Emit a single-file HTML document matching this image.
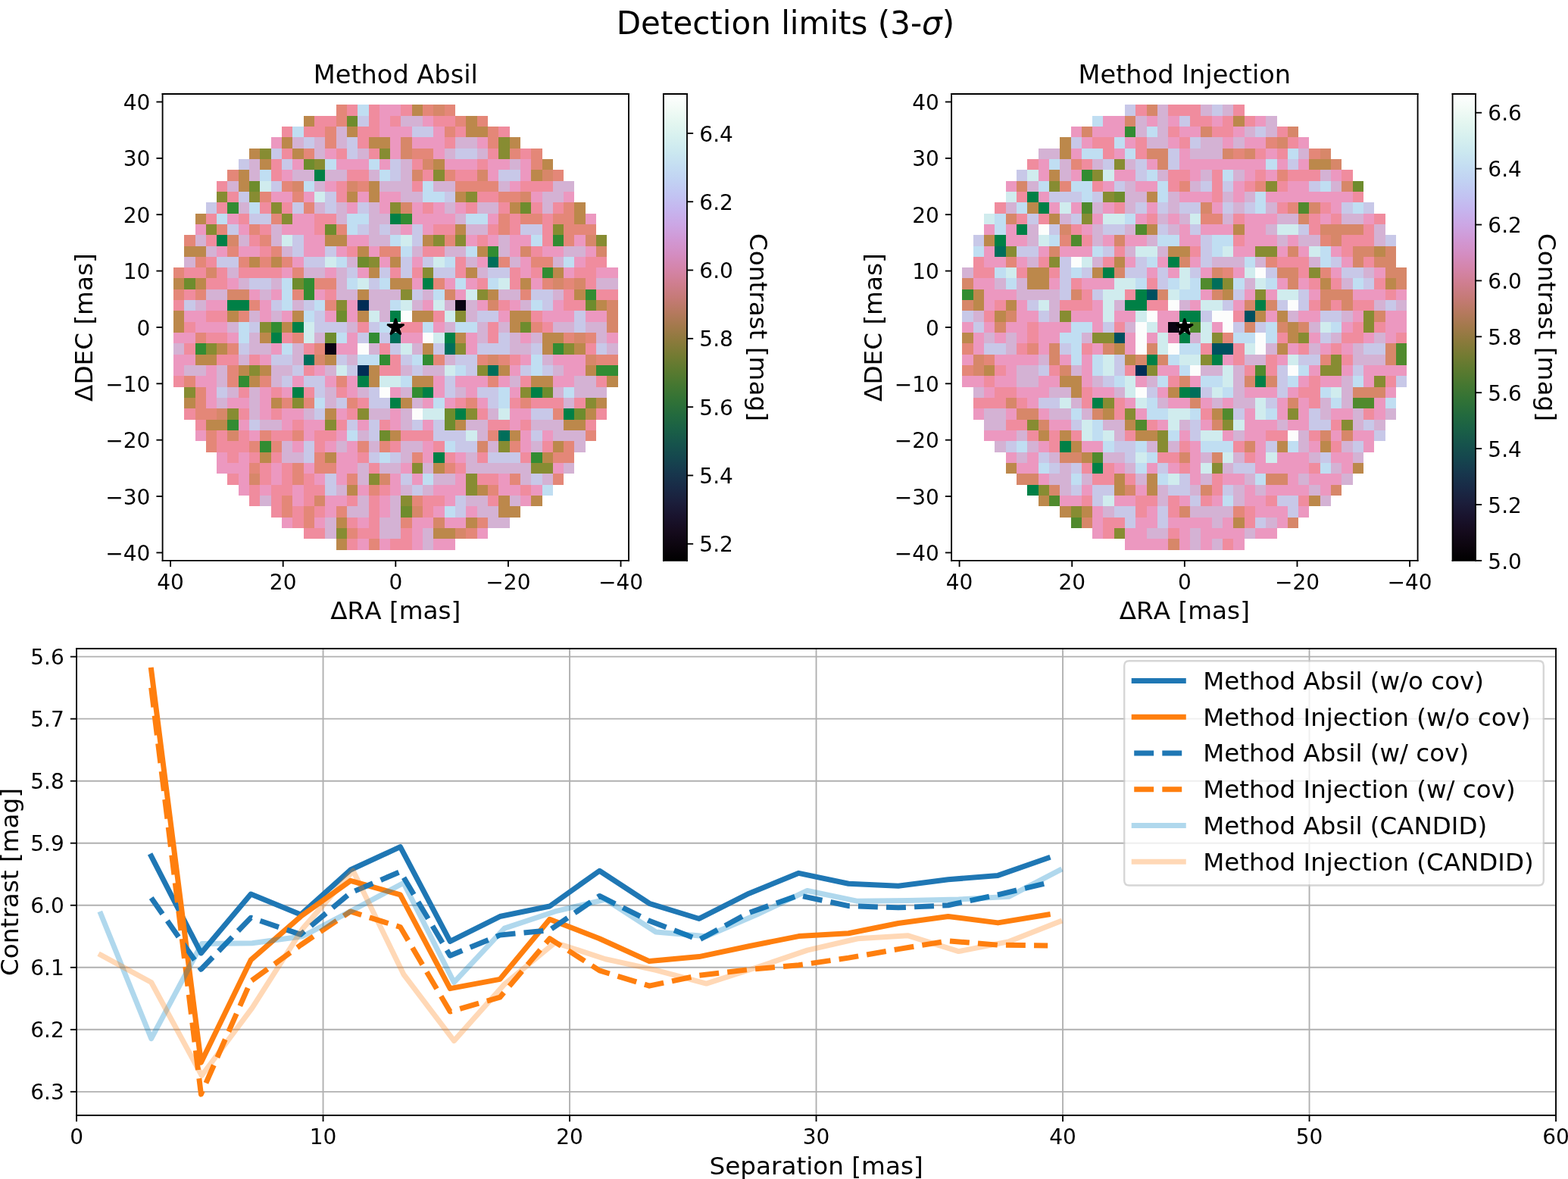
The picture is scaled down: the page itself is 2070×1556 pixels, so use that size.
<!DOCTYPE html>
<html><head><meta charset="utf-8"><title>Detection limits (3-sigma)</title><style>html,body{margin:0;padding:0;background:#fff;overflow:hidden}svg{display:block}</style></head><body>
<svg width="2070" height="1556" viewBox="0 0 887.142857 666.857143" version="1.1">
 
 <defs>
  <style type="text/css">*{stroke-linejoin: round; stroke-linecap: butt}</style>
 </defs>
 <g id="figure_1">
  <g id="patch_1">
   <path d="M 0 666.857143 
L 887.142857 666.857143 
L 887.142857 0 
L 0 0 
z
" style="fill: #ffffff"/>
  </g>
  <g id="axes_1">
   <g id="patch_2">
    <path d="M 91.971429 317.1 
L 355.714286 317.1 
L 355.714286 53.142857 
L 91.971429 53.142857 
z
" style="fill: #ffffff"/>
   </g>
   <g id="HEAT_ax1"><g transform="scale(0.4285714)" shape-rendering="crispEdges">
<path fill="#e48778" d="M444 138h14v15h-14zM558 138h14v15h-14zM587 138h14v15h-14zM444 153h14v14h-14zM601 153h14v14h-14zM630 153h14v14h-14zM429 167h15v14h-15zM587 167h14v14h-14zM644 167h14v14h-14zM429 181h15v15h-15zM644 181h14v15h-14zM401 196h14v14h-14zM544 196h14v14h-14zM558 196h14v14h-14zM673 196h14v14h-14zM701 196h15v14h-15zM701 210h15v14h-15zM300 224h15v15h-15zM587 224h14v15h-14zM730 224h14v15h-14zM372 239h14v14h-14zM472 239h15v14h-15zM601 239h14v14h-14zM615 239h15v14h-15zM630 239h14v14h-14zM644 239h14v14h-14zM343 253h15v14h-15zM386 253h15v14h-15zM658 253h15v14h-15zM673 253h14v14h-14zM401 267h14v15h-14zM744 267h14v15h-14zM358 282h14v14h-14zM658 282h15v14h-15zM687 282h14v14h-14zM701 282h15v14h-15zM730 282h14v14h-14zM744 282h14v14h-14zM286 296h14v14h-14zM329 296h14v14h-14zM444 296h14v14h-14zM658 296h15v14h-15zM744 296h14v14h-14zM758 296h15v14h-15zM773 296h14v14h-14zM243 310h15v15h-15zM343 310h15v15h-15zM587 310h14v15h-14zM744 310h14v15h-14zM300 325h15v14h-15zM358 325h14v14h-14zM501 325h14v14h-14zM515 325h14v14h-14zM258 339h14v14h-14zM315 339h14v14h-14zM343 339h15v14h-15zM372 339h14v14h-14zM658 339h15v14h-15zM701 339h15v14h-15zM716 339h14v14h-14zM229 353h14v14h-14zM386 353h15v14h-15zM415 367h14v15h-14zM429 367h15v15h-15zM572 367h15v15h-15zM716 367h14v15h-14zM744 367h14v15h-14zM229 382h14v14h-14zM258 382h14v14h-14zM386 382h15v14h-15zM687 382h14v14h-14zM329 396h14v14h-14zM429 396h15v14h-15zM315 410h14v15h-14zM701 425h15v14h-15zM258 439h14v14h-14zM386 439h15v14h-15zM744 439h14v14h-14zM773 439h14v14h-14zM300 453h15v15h-15zM415 453h14v15h-14zM572 468h15v14h-15zM630 468h14v14h-14zM658 468h15v14h-15zM787 468h14v14h-14zM801 468h15v14h-15zM300 482h15v14h-15zM243 496h15v15h-15zM300 496h15v15h-15zM343 496h15v15h-15zM444 496h14v15h-14zM644 496h14v15h-14zM258 511h14v14h-14zM258 525h14v14h-14zM372 525h14v14h-14zM401 525h14v14h-14zM458 525h14v14h-14zM615 525h15v14h-15zM687 525h14v14h-14zM258 539h14v15h-14zM272 539h14v15h-14zM730 539h14v15h-14zM272 568h14v14h-14zM343 568h15v14h-15zM386 568h15v14h-15zM644 568h14v14h-14zM773 568h14v14h-14zM272 582h14v15h-14zM329 582h14v15h-14zM358 582h14v15h-14zM472 582h15v15h-15zM501 582h14v15h-14zM673 582h14v15h-14zM744 582h14v15h-14zM415 597h14v14h-14zM544 597h14v14h-14zM730 597h14v14h-14zM744 597h14v14h-14zM329 611h14v14h-14zM386 611h15v14h-15zM415 611h14v14h-14zM429 611h15v14h-15zM587 611h14v14h-14zM386 625h15v15h-15zM458 625h14v15h-14zM673 625h14v15h-14zM730 625h14v15h-14zM487 640h14v14h-14zM644 640h14v14h-14zM372 654h14v14h-14zM544 654h14v14h-14zM372 668h14v15h-14zM401 668h14v15h-14zM444 668h14v15h-14zM401 683h14v14h-14zM529 683h15v14h-15zM630 683h14v14h-14zM458 697h14v14h-14zM615 697h15v14h-15zM487 711h14v15h-14z"/>
<path fill="#f08c9e" d="M458 138h14v15h-14zM487 138h14v15h-14zM529 138h15v15h-15zM415 153h14v14h-14zM429 153h15v14h-15zM487 153h14v14h-14zM515 153h14v14h-14zM572 153h15v14h-15zM587 153h14v14h-14zM372 167h14v14h-14zM401 167h14v14h-14zM415 167h14v14h-14zM472 167h15v14h-15zM487 167h14v14h-14zM601 167h14v14h-14zM658 167h15v14h-15zM472 181h15v15h-15zM587 181h14v15h-14zM372 196h14v14h-14zM444 196h14v14h-14zM487 196h14v14h-14zM644 196h14v14h-14zM687 196h14v14h-14zM358 210h14v14h-14zM544 210h14v14h-14zM630 210h14v14h-14zM358 224h14v15h-14zM458 224h14v15h-14zM472 224h15v15h-15zM558 224h14v15h-14zM601 224h14v15h-14zM615 224h15v15h-15zM286 239h14v14h-14zM444 239h14v14h-14zM544 239h14v14h-14zM687 239h14v14h-14zM701 239h15v14h-15zM716 239h14v14h-14zM300 253h15v14h-15zM444 253h14v14h-14zM630 253h14v14h-14zM644 253h14v14h-14zM286 267h14v15h-14zM343 267h15v15h-15zM372 267h14v15h-14zM558 267h14v15h-14zM615 267h15v15h-15zM658 267h15v15h-15zM701 267h15v15h-15zM730 267h14v15h-14zM272 282h14v14h-14zM315 282h14v14h-14zM415 282h14v14h-14zM429 282h15v14h-15zM673 282h14v14h-14zM716 282h14v14h-14zM343 296h15v14h-15zM415 296h14v14h-14zM572 296h15v14h-15zM587 296h14v14h-14zM644 296h14v14h-14zM673 296h14v14h-14zM716 296h14v14h-14zM272 310h14v15h-14zM329 310h14v15h-14zM630 310h14v15h-14zM716 310h14v15h-14zM343 325h15v14h-15zM458 325h14v14h-14zM558 325h14v14h-14zM572 325h15v14h-15zM701 325h15v14h-15zM272 339h14v14h-14zM601 339h14v14h-14zM773 339h14v14h-14zM787 339h14v14h-14zM243 353h15v14h-15zM258 353h14v14h-14zM286 353h14v14h-14zM315 353h14v14h-14zM329 353h14v14h-14zM343 353h15v14h-15zM358 353h14v14h-14zM515 353h14v14h-14zM544 353h14v14h-14zM601 353h14v14h-14zM673 353h14v14h-14zM701 353h15v14h-15zM758 353h15v14h-15zM773 353h14v14h-14zM272 367h14v15h-14zM286 367h14v15h-14zM630 367h14v15h-14zM673 367h14v15h-14zM773 367h14v15h-14zM243 382h15v14h-15zM429 382h15v14h-15zM744 382h14v14h-14zM787 382h14v14h-14zM801 382h15v14h-15zM229 396h14v14h-14zM658 396h15v14h-15zM744 396h14v14h-14zM758 396h15v14h-15zM272 410h14v15h-14zM286 410h14v15h-14zM572 410h15v15h-15zM701 410h15v15h-15zM243 425h15v14h-15zM472 425h15v14h-15zM529 425h15v14h-15zM544 425h14v14h-14zM644 425h14v14h-14zM716 425h14v14h-14zM272 439h14v14h-14zM286 439h14v14h-14zM372 439h14v14h-14zM644 439h14v14h-14zM243 453h15v15h-15zM401 453h14v15h-14zM501 453h14v15h-14zM773 453h14v15h-14zM286 468h14v14h-14zM300 468h15v14h-15zM329 468h14v14h-14zM515 468h14v14h-14zM673 468h14v14h-14zM401 482h14v14h-14zM501 482h14v14h-14zM515 482h14v14h-14zM229 496h14v15h-14zM687 496h14v15h-14zM787 496h14v15h-14zM315 511h14v14h-14zM358 511h14v14h-14zM401 511h14v14h-14zM444 511h14v14h-14zM472 525h15v14h-15zM601 525h14v14h-14zM673 525h14v14h-14zM701 525h15v14h-15zM716 525h14v14h-14zM730 525h14v14h-14zM758 525h15v14h-15zM243 539h15v15h-15zM315 539h14v15h-14zM358 539h14v15h-14zM458 539h14v15h-14zM630 539h14v15h-14zM787 539h14v15h-14zM258 554h14v14h-14zM386 554h15v14h-15zM444 554h14v14h-14zM501 554h14v14h-14zM644 554h14v14h-14zM658 554h15v14h-15zM687 554h14v14h-14zM773 554h14v14h-14zM286 568h14v14h-14zM315 568h14v14h-14zM358 568h14v14h-14zM372 568h14v14h-14zM415 568h14v14h-14zM429 568h15v14h-15zM529 568h15v14h-15zM544 568h14v14h-14zM558 568h14v14h-14zM286 582h14v15h-14zM300 582h15v15h-15zM315 582h14v15h-14zM415 582h14v15h-14zM515 582h14v15h-14zM572 582h15v15h-15zM716 582h14v15h-14zM300 597h15v14h-15zM329 597h14v14h-14zM358 597h14v14h-14zM472 597h15v14h-15zM587 597h14v14h-14zM630 597h14v14h-14zM687 597h14v14h-14zM343 611h15v14h-15zM372 611h14v14h-14zM487 611h14v14h-14zM601 611h14v14h-14zM300 625h15v15h-15zM343 625h15v15h-15zM372 625h14v15h-14zM401 625h14v15h-14zM630 625h14v15h-14zM644 625h14v15h-14zM329 640h14v14h-14zM358 640h14v14h-14zM372 640h14v14h-14zM401 640h14v14h-14zM415 640h14v14h-14zM501 640h14v14h-14zM687 640h14v14h-14zM329 654h14v14h-14zM358 654h14v14h-14zM401 654h14v14h-14zM458 654h14v14h-14zM487 654h14v14h-14zM558 654h14v14h-14zM572 654h15v14h-15zM644 654h14v14h-14zM358 668h14v15h-14zM386 668h15v15h-15zM415 668h14v15h-14zM487 668h14v15h-14zM558 668h14v15h-14zM386 683h15v14h-15zM458 683h14v14h-14zM487 683h14v14h-14zM401 697h14v14h-14zM415 697h14v14h-14zM472 697h15v14h-15zM487 697h14v14h-14zM529 697h15v14h-15zM458 711h14v15h-14zM515 711h14v15h-14zM529 711h15v15h-15z"/>
<path fill="#c0def2" d="M472 138h15v15h-15zM386 167h15v14h-15zM429 210h15v14h-15zM487 210h14v14h-14zM343 224h15v15h-15zM501 224h14v15h-14zM401 239h14v14h-14zM558 239h14v14h-14zM558 253h14v14h-14zM572 253h15v14h-15zM329 267h14v15h-14zM286 282h14v14h-14zM458 282h14v14h-14zM472 282h15v14h-15zM615 282h15v14h-15zM630 282h14v14h-14zM458 296h14v14h-14zM515 310h14v15h-14zM701 310h15v15h-15zM529 325h15v14h-15zM615 325h15v14h-15zM444 339h14v14h-14zM587 339h14v14h-14zM744 339h14v14h-14zM372 367h14v15h-14zM458 367h14v15h-14zM501 367h14v15h-14zM601 367h14v15h-14zM644 367h14v15h-14zM372 382h14v14h-14zM572 382h15v14h-15zM372 396h14v14h-14zM415 396h14v14h-14zM515 396h14v14h-14zM701 396h15v14h-15zM401 410h14v15h-14zM315 425h14v14h-14zM501 425h14v14h-14zM558 425h14v14h-14zM601 425h14v14h-14zM615 425h15v14h-15zM315 439h14v14h-14zM444 439h14v14h-14zM372 453h14v15h-14zM472 468h15v14h-15zM487 468h14v14h-14zM544 468h14v14h-14zM701 468h15v14h-15zM601 482h14v14h-14zM701 482h15v14h-15zM529 496h15v15h-15zM658 511h15v14h-15zM744 511h14v14h-14zM415 525h14v14h-14zM572 525h15v14h-15zM658 525h15v14h-15zM458 568h14v14h-14zM587 582h14v15h-14zM501 597h14v14h-14zM558 625h14v15h-14zM716 640h14v14h-14zM587 668h14v15h-14z"/>
<path fill="#ec98c0" d="M501 138h14v15h-14zM515 138h14v15h-14zM501 153h14v14h-14zM558 153h14v14h-14zM501 167h14v14h-14zM515 167h14v14h-14zM529 167h15v14h-15zM572 167h15v14h-15zM358 181h14v15h-14zM515 181h14v15h-14zM544 181h14v15h-14zM558 181h14v15h-14zM572 181h15v15h-15zM630 181h14v15h-14zM429 196h15v14h-15zM515 196h14v14h-14zM572 196h15v14h-15zM386 210h15v14h-15zM444 210h14v14h-14zM458 210h14v14h-14zM472 210h15v14h-15zM501 210h14v14h-14zM587 210h14v14h-14zM601 210h14v14h-14zM615 210h15v14h-15zM644 210h14v14h-14zM658 210h15v14h-15zM687 210h14v14h-14zM372 224h14v15h-14zM644 224h14v15h-14zM687 224h14v15h-14zM429 239h15v14h-15zM673 239h14v14h-14zM358 253h14v14h-14zM372 253h14v14h-14zM401 253h14v14h-14zM472 253h15v14h-15zM501 253h14v14h-14zM515 253h14v14h-14zM701 253h15v14h-15zM744 253h14v14h-14zM458 267h14v15h-14zM501 267h14v15h-14zM544 267h14v15h-14zM572 267h15v15h-15zM601 267h14v15h-14zM300 282h15v14h-15zM386 282h15v14h-15zM401 282h14v14h-14zM544 282h14v14h-14zM558 282h14v14h-14zM572 282h15v14h-15zM587 282h14v14h-14zM644 282h14v14h-14zM773 282h14v14h-14zM258 296h14v14h-14zM315 296h14v14h-14zM372 296h14v14h-14zM386 296h15v14h-15zM401 296h14v14h-14zM529 296h15v14h-15zM558 296h14v14h-14zM401 310h14v15h-14zM415 310h14v15h-14zM458 310h14v15h-14zM472 310h15v15h-15zM615 310h15v15h-15zM644 310h14v15h-14zM673 310h14v15h-14zM687 310h14v15h-14zM758 310h15v15h-15zM286 325h14v14h-14zM315 325h14v14h-14zM329 325h14v14h-14zM401 325h14v14h-14zM415 325h14v14h-14zM444 325h14v14h-14zM487 325h14v14h-14zM673 325h14v14h-14zM716 325h14v14h-14zM730 325h14v14h-14zM773 325h14v14h-14zM386 339h15v14h-15zM501 339h14v14h-14zM544 339h14v14h-14zM630 339h14v14h-14zM687 339h14v14h-14zM758 339h15v14h-15zM372 353h14v14h-14zM429 353h15v14h-15zM472 353h15v14h-15zM687 353h14v14h-14zM744 353h14v14h-14zM787 353h14v14h-14zM801 353h15v14h-15zM300 367h15v15h-15zM544 367h14v15h-14zM587 367h14v15h-14zM615 367h15v15h-15zM701 367h15v15h-15zM329 382h14v14h-14zM358 382h14v14h-14zM415 382h14v14h-14zM601 382h14v14h-14zM272 396h14v14h-14zM286 396h14v14h-14zM343 396h15v14h-15zM458 396h14v14h-14zM558 396h14v14h-14zM630 396h14v14h-14zM673 396h14v14h-14zM730 396h14v14h-14zM243 410h15v15h-15zM258 410h14v15h-14zM343 410h15v15h-15zM372 410h14v15h-14zM429 410h15v15h-15zM458 410h14v15h-14zM658 410h15v15h-15zM716 410h14v15h-14zM730 410h14v15h-14zM744 410h14v15h-14zM773 410h14v15h-14zM787 410h14v15h-14zM258 425h14v14h-14zM272 425h14v14h-14zM286 425h14v14h-14zM572 425h15v14h-15zM229 439h14v14h-14zM243 439h15v14h-15zM300 439h15v14h-15zM458 439h14v14h-14zM529 439h15v14h-15zM544 439h14v14h-14zM615 439h15v14h-15zM687 439h14v14h-14zM801 439h15v14h-15zM358 453h14v15h-14zM444 453h14v15h-14zM458 453h14v15h-14zM615 453h15v15h-15zM229 468h14v14h-14zM243 468h15v14h-15zM343 468h15v14h-15zM687 468h14v14h-14zM730 468h14v14h-14zM744 468h14v14h-14zM758 468h15v14h-15zM229 482h14v14h-14zM272 482h14v14h-14zM415 482h14v14h-14zM673 482h14v14h-14zM744 482h14v14h-14zM758 482h15v14h-15zM258 496h14v15h-14zM272 496h14v15h-14zM386 496h15v15h-15zM429 496h15v15h-15zM458 496h14v15h-14zM572 496h15v15h-15zM601 496h14v15h-14zM615 496h15v15h-15zM630 496h14v15h-14zM658 496h15v15h-15zM730 496h14v15h-14zM744 496h14v15h-14zM272 511h14v14h-14zM343 511h15v14h-15zM372 511h14v14h-14zM458 511h14v14h-14zM515 511h14v14h-14zM572 511h15v14h-15zM615 511h15v14h-15zM673 511h14v14h-14zM272 525h14v14h-14zM300 525h15v14h-15zM315 525h14v14h-14zM343 525h15v14h-15zM558 525h14v14h-14zM587 525h14v14h-14zM630 525h14v14h-14zM343 539h15v15h-15zM372 539h14v15h-14zM386 539h15v15h-15zM444 539h14v15h-14zM515 539h14v15h-14zM673 539h14v15h-14zM687 539h14v15h-14zM315 554h14v14h-14zM372 554h14v14h-14zM401 554h14v14h-14zM415 554h14v14h-14zM472 554h15v14h-15zM515 554h14v14h-14zM558 554h14v14h-14zM673 554h14v14h-14zM258 568h14v14h-14zM329 568h14v14h-14zM401 568h14v14h-14zM444 568h14v14h-14zM687 568h14v14h-14zM716 568h14v14h-14zM386 582h15v15h-15zM429 582h15v15h-15zM458 582h14v15h-14zM558 582h14v15h-14zM687 582h14v15h-14zM286 597h14v14h-14zM315 597h14v14h-14zM444 597h14v14h-14zM458 597h14v14h-14zM558 597h14v14h-14zM601 597h14v14h-14zM286 611h14v14h-14zM300 611h15v14h-15zM315 611h14v14h-14zM358 611h14v14h-14zM401 611h14v14h-14zM444 611h14v14h-14zM458 611h14v14h-14zM529 611h15v14h-15zM730 611h14v14h-14zM315 625h14v15h-14zM358 625h14v15h-14zM415 625h14v15h-14zM444 625h14v15h-14zM515 625h14v15h-14zM544 625h14v15h-14zM601 625h14v15h-14zM658 625h15v15h-15zM315 640h14v14h-14zM343 640h15v14h-15zM386 640h15v14h-15zM472 640h15v14h-15zM515 640h14v14h-14zM572 640h15v14h-15zM587 640h14v14h-14zM601 640h14v14h-14zM658 640h15v14h-15zM673 640h14v14h-14zM701 640h15v14h-15zM386 654h15v14h-15zM429 654h15v14h-15zM444 654h14v14h-14zM501 654h14v14h-14zM587 654h14v14h-14zM687 654h14v14h-14zM429 668h15v15h-15zM501 668h14v15h-14zM572 668h15v15h-15zM615 668h15v15h-15zM372 683h14v14h-14zM415 683h14v14h-14zM472 683h15v14h-15zM544 683h14v14h-14zM558 683h14v14h-14zM587 683h14v14h-14zM601 683h14v14h-14zM544 697h14v14h-14zM630 697h14v14h-14zM472 711h15v15h-15zM501 711h14v15h-14zM544 711h14v15h-14zM572 711h15v15h-15zM587 711h14v15h-14z"/>
<path fill="#bc884b" d="M544 138h14v15h-14zM401 153h14v14h-14zM615 153h15v14h-15zM458 167h14v14h-14zM615 167h15v14h-15zM630 167h14v14h-14zM372 181h14v15h-14zM487 181h14v15h-14zM501 181h14v15h-14zM673 181h14v15h-14zM329 196h14v14h-14zM386 196h15v14h-15zM343 210h15v14h-15zM572 210h15v14h-15zM716 210h14v14h-14zM315 224h14v15h-14zM701 224h15v15h-15zM315 239h14v14h-14zM487 239h14v14h-14zM458 253h14v14h-14zM487 253h14v14h-14zM601 253h14v14h-14zM673 267h14v15h-14zM758 267h15v15h-15zM258 282h14v14h-14zM758 282h15v14h-15zM601 296h14v14h-14zM429 310h15v15h-15zM444 310h14v15h-14zM558 310h14v15h-14zM243 325h15v14h-15zM258 325h14v14h-14zM472 325h15v14h-15zM630 325h14v14h-14zM329 339h14v14h-14zM358 339h14v14h-14zM515 339h14v14h-14zM487 353h14v14h-14zM615 353h15v14h-15zM730 353h14v14h-14zM229 367h14v15h-14zM258 367h14v15h-14zM515 367h14v15h-14zM529 367h15v15h-15zM687 367h14v15h-14zM472 382h15v14h-15zM644 382h14v14h-14zM758 382h15v14h-15zM787 396h14v14h-14zM229 410h14v15h-14zM300 410h15v15h-15zM386 410h15v15h-15zM472 410h15v15h-15zM544 410h14v15h-14zM558 410h14v15h-14zM673 410h14v15h-14zM687 410h14v15h-14zM229 425h14v14h-14zM372 425h14v14h-14zM673 425h14v14h-14zM343 439h15v14h-15zM601 439h14v14h-14zM716 439h14v14h-14zM730 439h14v14h-14zM286 453h14v15h-14zM558 453h14v15h-14zM716 453h14v15h-14zM758 453h15v15h-15zM258 468h14v14h-14zM272 468h14v14h-14zM429 468h15v14h-15zM315 482h14v14h-14zM343 482h15v14h-15zM487 482h14v14h-14zM658 482h15v14h-15zM773 482h14v14h-14zM329 496h14v15h-14zM487 496h14v15h-14zM544 496h14v15h-14zM558 496h14v15h-14zM701 496h15v15h-15zM716 496h14v15h-14zM801 496h15v15h-15zM243 525h15v14h-15zM358 525h14v14h-14zM529 525h15v14h-15zM787 525h14v14h-14zM429 539h15v15h-15zM773 539h14v15h-14zM272 554h14v14h-14zM286 554h14v14h-14zM601 554h14v14h-14zM744 554h14v14h-14zM758 554h15v14h-15zM515 568h14v14h-14zM673 568h14v14h-14zM730 582h14v15h-14zM343 597h15v14h-15zM429 597h15v14h-15zM716 597h14v14h-14zM572 611h15v14h-15zM458 640h14v14h-14zM630 640h14v14h-14zM658 654h15v14h-15zM701 654h15v14h-15zM658 668h15v15h-15zM673 668h14v15h-14zM444 683h14v14h-14zM615 683h15v14h-15zM572 697h15v14h-15zM587 697h14v14h-14zM444 711h14v15h-14z"/>
<path fill="#d78769" d="M572 138h15v15h-15zM529 181h15v15h-15zM529 196h15v14h-15zM558 210h14v14h-14zM544 224h14v15h-14zM630 224h14v15h-14zM716 224h14v15h-14zM386 239h15v14h-15zM458 239h14v14h-14zM687 253h14v14h-14zM529 267h15v15h-15zM300 310h15v15h-15zM773 310h14v15h-14zM687 325h14v14h-14zM787 325h14v14h-14zM272 353h14v14h-14zM730 367h14v15h-14zM758 367h15v15h-15zM300 382h15v14h-15zM315 382h14v14h-14zM587 382h14v14h-14zM644 396h14v14h-14zM801 396h15v14h-15zM801 410h15v15h-15zM801 425h15v14h-15zM758 439h15v14h-15zM415 468h14v14h-14zM644 468h14v14h-14zM773 468h14v14h-14zM286 539h14v15h-14zM300 568h15v14h-15zM630 582h14v15h-14zM329 625h14v15h-14zM501 625h14v15h-14zM415 654h14v14h-14zM544 668h14v15h-14zM572 683h15v14h-15zM601 697h14v14h-14z"/>
<path fill="#6e8c2d" d="M458 153h14v14h-14zM401 210h14v14h-14zM329 239h14v14h-14zM687 267h14v15h-14zM429 296h15v14h-15zM472 339h15v14h-15zM243 367h15v15h-15zM386 367h15v15h-15zM773 396h14v14h-14zM444 410h14v15h-14zM687 425h14v14h-14zM429 439h15v14h-15zM716 511h14v14h-14zM587 539h14v15h-14zM758 539h15v15h-15zM587 554h14v14h-14zM501 568h14v14h-14zM529 668h15v15h-15z"/>
<path fill="#c8c8e8" d="M472 153h15v14h-15zM544 167h14v14h-14zM558 167h14v14h-14zM401 181h14v15h-14zM458 181h14v15h-14zM358 196h14v14h-14zM458 196h14v14h-14zM601 196h14v14h-14zM615 196h15v14h-15zM315 210h14v14h-14zM372 210h14v14h-14zM515 210h14v14h-14zM515 224h14v15h-14zM658 224h15v15h-15zM673 224h14v15h-14zM358 239h14v14h-14zM315 253h14v14h-14zM429 253h15v14h-15zM587 253h14v14h-14zM272 267h14v15h-14zM386 267h15v15h-15zM429 267h15v15h-15zM472 267h15v15h-15zM329 282h14v14h-14zM343 282h15v14h-15zM300 296h15v14h-15zM472 296h15v14h-15zM501 296h14v14h-14zM544 296h14v14h-14zM687 296h14v14h-14zM701 296h15v14h-15zM386 310h15v15h-15zM544 310h14v15h-14zM386 325h15v14h-15zM429 325h15v14h-15zM286 339h14v14h-14zM300 339h15v14h-15zM401 339h14v14h-14zM415 339h14v14h-14zM529 339h15v14h-15zM558 339h14v14h-14zM458 353h14v14h-14zM501 353h14v14h-14zM529 353h15v14h-15zM572 353h15v14h-15zM587 353h14v14h-14zM644 353h14v14h-14zM658 353h15v14h-15zM329 367h14v15h-14zM343 367h15v15h-15zM487 367h14v15h-14zM544 382h14v14h-14zM701 382h15v14h-15zM716 382h14v14h-14zM243 396h15v14h-15zM358 396h14v14h-14zM401 396h14v14h-14zM716 396h14v14h-14zM415 410h14v15h-14zM630 410h14v15h-14zM644 410h14v15h-14zM758 410h15v15h-15zM329 425h14v14h-14zM415 425h14v14h-14zM429 425h15v14h-15zM444 425h14v14h-14zM487 425h14v14h-14zM758 425h15v14h-15zM472 439h15v14h-15zM501 439h14v14h-14zM658 439h15v14h-15zM315 453h14v15h-14zM515 453h14v15h-14zM572 453h15v15h-15zM630 453h14v15h-14zM644 453h14v15h-14zM658 453h15v15h-15zM701 453h15v15h-15zM787 453h14v15h-14zM358 468h14v14h-14zM372 468h14v14h-14zM444 468h14v14h-14zM529 468h15v14h-15zM601 468h14v14h-14zM615 468h15v14h-15zM386 482h15v14h-15zM458 482h14v14h-14zM544 482h14v14h-14zM615 482h15v14h-15zM687 482h14v14h-14zM716 482h14v14h-14zM372 496h14v15h-14zM401 496h14v15h-14zM415 496h14v15h-14zM587 496h14v15h-14zM286 511h14v14h-14zM415 511h14v14h-14zM487 511h14v14h-14zM587 511h14v14h-14zM630 511h14v14h-14zM644 511h14v14h-14zM444 525h14v14h-14zM487 525h14v14h-14zM501 525h14v14h-14zM644 525h14v14h-14zM415 539h14v15h-14zM701 539h15v15h-15zM716 539h14v15h-14zM329 554h14v14h-14zM458 554h14v14h-14zM487 554h14v14h-14zM544 554h14v14h-14zM572 554h15v14h-15zM487 568h14v14h-14zM572 568h15v14h-15zM587 568h14v14h-14zM601 568h14v14h-14zM701 568h15v14h-15zM401 582h14v15h-14zM601 582h14v15h-14zM615 582h15v15h-15zM401 597h14v14h-14zM487 597h14v14h-14zM515 597h14v14h-14zM644 597h14v14h-14zM658 597h15v14h-15zM673 597h14v14h-14zM429 625h15v15h-15zM529 625h15v15h-15zM701 625h15v15h-15zM429 640h15v14h-15zM544 640h14v14h-14zM601 654h14v14h-14zM601 668h14v15h-14z"/>
<path fill="#d4b2d4" d="M529 153h15v14h-15zM544 153h14v14h-14zM444 167h14v14h-14zM386 181h15v15h-15zM415 181h14v15h-14zM444 181h14v15h-14zM601 181h14v15h-14zM615 181h15v15h-15zM415 196h14v14h-14zM472 196h15v14h-15zM587 196h14v14h-14zM630 196h14v14h-14zM329 210h14v14h-14zM529 210h15v14h-15zM673 210h14v14h-14zM329 224h14v15h-14zM386 224h15v15h-15zM401 224h14v15h-14zM429 224h15v15h-15zM444 224h14v15h-14zM487 224h14v15h-14zM529 224h15v15h-15zM300 239h15v14h-15zM415 239h14v14h-14zM501 239h14v14h-14zM515 239h14v14h-14zM529 239h15v14h-15zM572 239h15v14h-15zM587 239h14v14h-14zM658 239h15v14h-15zM730 239h14v14h-14zM744 239h14v14h-14zM529 253h15v14h-15zM544 253h14v14h-14zM716 253h14v14h-14zM730 253h14v14h-14zM315 267h14v15h-14zM415 267h14v15h-14zM444 267h14v15h-14zM487 267h14v15h-14zM587 267h14v15h-14zM630 267h14v15h-14zM644 267h14v15h-14zM716 267h14v15h-14zM444 282h14v14h-14zM487 282h14v14h-14zM501 282h14v14h-14zM601 282h14v14h-14zM358 296h14v14h-14zM487 296h14v14h-14zM515 296h14v14h-14zM615 296h15v14h-15zM630 296h14v14h-14zM258 310h14v15h-14zM315 310h14v15h-14zM358 310h14v15h-14zM487 310h14v15h-14zM501 310h14v15h-14zM658 310h15v15h-15zM272 325h14v14h-14zM372 325h14v14h-14zM544 325h14v14h-14zM587 325h14v14h-14zM601 325h14v14h-14zM658 325h15v14h-15zM744 325h14v14h-14zM758 325h15v14h-15zM243 339h15v14h-15zM458 339h14v14h-14zM615 339h15v14h-15zM673 339h14v14h-14zM730 339h14v14h-14zM300 353h15v14h-15zM401 353h14v14h-14zM415 353h14v14h-14zM444 353h14v14h-14zM630 353h14v14h-14zM315 367h14v15h-14zM358 367h14v15h-14zM444 367h14v15h-14zM787 367h14v15h-14zM801 367h15v15h-15zM272 382h14v14h-14zM286 382h14v14h-14zM343 382h15v14h-15zM444 382h14v14h-14zM458 382h14v14h-14zM487 382h14v14h-14zM501 382h14v14h-14zM515 382h14v14h-14zM558 382h14v14h-14zM658 382h15v14h-15zM673 382h14v14h-14zM730 382h14v14h-14zM258 396h14v14h-14zM386 396h15v14h-15zM487 396h14v14h-14zM501 396h14v14h-14zM544 396h14v14h-14zM587 396h14v14h-14zM615 396h15v14h-15zM687 396h14v14h-14zM329 410h14v15h-14zM358 410h14v15h-14zM501 410h14v15h-14zM615 410h15v15h-15zM300 425h15v14h-15zM458 425h14v14h-14zM587 425h14v14h-14zM630 425h14v14h-14zM658 425h15v14h-15zM730 425h14v14h-14zM744 425h14v14h-14zM773 425h14v14h-14zM787 425h14v14h-14zM329 439h14v14h-14zM415 439h14v14h-14zM630 439h14v14h-14zM673 439h14v14h-14zM701 439h15v14h-15zM787 439h14v14h-14zM229 453h14v15h-14zM329 453h14v15h-14zM343 453h15v15h-15zM386 453h15v15h-15zM487 453h14v15h-14zM544 453h14v15h-14zM673 453h14v15h-14zM687 453h14v15h-14zM801 453h15v15h-15zM315 468h14v14h-14zM386 468h15v14h-15zM458 468h14v14h-14zM587 468h14v14h-14zM716 468h14v14h-14zM243 482h15v14h-15zM258 482h14v14h-14zM286 482h14v14h-14zM358 482h14v14h-14zM372 482h14v14h-14zM429 482h15v14h-15zM529 482h15v14h-15zM558 482h14v14h-14zM572 482h15v14h-15zM730 482h14v14h-14zM286 496h14v15h-14zM358 496h14v15h-14zM673 496h14v15h-14zM758 496h15v15h-15zM773 496h14v15h-14zM300 511h15v14h-15zM329 511h14v14h-14zM429 511h15v14h-15zM472 511h15v14h-15zM529 511h15v14h-15zM601 511h14v14h-14zM730 511h14v14h-14zM758 511h15v14h-15zM773 511h14v14h-14zM787 511h14v14h-14zM286 525h14v14h-14zM329 525h14v14h-14zM429 525h15v14h-15zM544 525h14v14h-14zM744 525h14v14h-14zM329 539h14v15h-14zM401 539h14v15h-14zM487 539h14v15h-14zM501 539h14v15h-14zM529 539h15v15h-15zM644 539h14v15h-14zM343 554h15v14h-15zM358 554h14v14h-14zM529 554h15v14h-15zM615 554h15v14h-15zM630 554h14v14h-14zM701 554h15v14h-15zM716 554h14v14h-14zM730 554h14v14h-14zM472 568h15v14h-15zM630 568h14v14h-14zM730 568h14v14h-14zM744 568h14v14h-14zM758 568h15v14h-15zM372 582h14v15h-14zM444 582h14v15h-14zM487 582h14v15h-14zM529 582h15v15h-15zM544 582h14v15h-14zM644 582h14v15h-14zM701 582h15v15h-15zM758 582h15v15h-15zM372 597h14v14h-14zM386 597h15v14h-15zM529 597h15v14h-15zM615 597h15v14h-15zM472 611h15v14h-15zM501 611h14v14h-14zM515 611h14v14h-14zM558 611h14v14h-14zM615 611h15v14h-15zM630 611h14v14h-14zM644 611h14v14h-14zM658 611h15v14h-15zM673 611h14v14h-14zM687 611h14v14h-14zM744 611h14v14h-14zM472 625h15v15h-15zM572 625h15v15h-15zM587 625h14v15h-14zM687 625h14v15h-14zM716 625h14v15h-14zM444 640h14v14h-14zM529 640h15v14h-15zM558 640h14v14h-14zM343 654h15v14h-15zM472 654h15v14h-15zM515 654h14v14h-14zM615 654h15v14h-15zM630 654h14v14h-14zM673 654h14v14h-14zM458 668h14v15h-14zM472 668h15v15h-15zM515 668h14v15h-14zM630 668h14v15h-14zM644 668h14v15h-14zM429 683h15v14h-15zM501 683h14v14h-14zM515 683h14v14h-14zM644 683h14v14h-14zM658 683h15v14h-15zM429 697h15v14h-15zM501 697h14v14h-14zM515 697h14v14h-14zM558 697h14v14h-14zM558 711h14v15h-14z"/>
<path fill="#878c32" d="M658 181h15v15h-15zM343 196h15v14h-15zM501 196h14v14h-14zM658 196h15v14h-15zM415 210h14v14h-14zM572 224h15v15h-15zM286 253h14v14h-14zM329 253h14v14h-14zM615 253h15v14h-15zM358 267h14v15h-14zM515 267h14v15h-14zM372 282h14v14h-14zM272 296h14v14h-14zM730 296h14v14h-14zM572 310h15v15h-15zM601 310h14v15h-14zM787 310h14v15h-14zM487 339h14v14h-14zM558 353h14v14h-14zM529 382h15v14h-15zM630 382h14v14h-14zM444 396h14v14h-14zM601 410h14v15h-14zM343 425h15v14h-15zM272 453h14v15h-14zM601 453h14v15h-14zM744 453h14v15h-14zM329 482h14v14h-14zM630 482h14v14h-14zM243 511h15v14h-15zM687 511h14v14h-14zM386 525h15v14h-15zM773 525h14v14h-14zM300 539h15v15h-15zM472 539h15v15h-15zM615 539h15v15h-15zM429 554h15v14h-15zM658 582h15v15h-15zM544 611h14v14h-14zM701 611h15v14h-15zM716 611h14v14h-14zM487 625h14v15h-14zM615 625h15v15h-15zM615 640h15v14h-15zM529 654h15v14h-15zM444 697h14v14h-14z"/>
<path fill="#008046" d="M415 224h14v15h-14zM515 282h14v14h-14zM286 310h14v15h-14zM558 367h14v15h-14zM300 396h15v14h-15zM315 396h14v14h-14zM515 410h14v15h-14zM386 425h15v14h-15zM358 439h14v14h-14zM587 439h14v14h-14zM472 496h15v15h-15zM386 511h15v14h-15zM558 511h14v14h-14zM701 511h15v14h-15zM515 525h14v14h-14zM601 539h14v15h-14zM744 539h14v15h-14zM572 597h15v14h-15z"/>
<path fill="#d0ecee" d="M343 239h15v14h-15zM415 253h14v14h-14zM372 310h14v15h-14zM529 310h15v15h-15zM429 339h15v14h-15zM572 339h15v14h-15zM472 367h15v15h-15zM658 367h15v15h-15zM615 382h15v14h-15zM529 396h15v14h-15zM572 396h15v14h-15zM487 410h14v15h-14zM587 410h14v15h-14zM401 425h14v14h-14zM401 439h14v14h-14zM572 439h15v14h-15zM529 453h15v15h-15zM444 482h14v14h-14zM587 482h14v14h-14zM501 496h14v15h-14zM515 496h14v15h-14zM558 539h14v15h-14zM572 539h15v15h-15zM658 539h15v15h-15zM615 568h15v14h-15z"/>
<path fill="#328c32" d="M300 267h15v15h-15zM529 282h15v14h-15zM730 310h14v15h-14zM644 325h14v14h-14zM716 353h14v14h-14zM401 367h14v15h-14zM401 382h14v14h-14zM773 382h14v14h-14zM358 425h14v14h-14zM487 439h14v14h-14zM258 453h14v15h-14zM730 453h14v15h-14zM501 468h14v14h-14zM558 468h14v14h-14zM787 482h14v14h-14zM801 482h15v14h-15zM315 496h14v15h-14zM544 511h14v14h-14zM300 554h15v14h-15zM343 582h15v15h-15zM701 597h15v14h-15z"/>
<path fill="#006e5a" d="M644 339h14v14h-14zM515 439h14v14h-14zM587 453h14v15h-14zM401 468h14v14h-14zM644 482h14v14h-14zM658 568h15v14h-15z"/>
<path fill="#002d55" d="M472 396h15v14h-15zM472 482h15v14h-15z"/>
<path fill="#0a0312" d="M601 396h14v14h-14zM429 453h15v15h-15z"/>
<path fill="#fcfdfc" d="M529 410h15v15h-15zM515 425h14v14h-14zM558 439h14v14h-14zM472 453h15v15h-15zM501 511h14v14h-14zM544 539h14v15h-14z"/>
</g></g>
   <g id="matplotlib.axis_1">
    <g id="xtick_1">
     <g id="line2d_1">
      <defs>
       <path id="m1504cfccaf" d="M 0 0 
L 0 3.5 
" style="stroke: #000000; stroke-width: 0.8"/>
      </defs>
      <g>
       <use href="#m1504cfccaf" x="96.461617" y="317.1" style="stroke: #000000; stroke-width: 0.8"/>
      </g>
     </g>
     <g id="text_1">
      <text style="font-size: 12px; font-family: 'DejaVu Sans', 'Liberation Sans', sans-serif; text-anchor: middle" x="96.461617" y="333.218125" transform="rotate(-0 96.461617 333.218125)">40</text>
     </g>
    </g>
    <g id="xtick_2">
     <g id="line2d_2">
      <g>
       <use href="#m1504cfccaf" x="160.152237" y="317.1" style="stroke: #000000; stroke-width: 0.8"/>
      </g>
     </g>
     <g id="text_2">
      <text style="font-size: 12px; font-family: 'DejaVu Sans', 'Liberation Sans', sans-serif; text-anchor: middle" x="160.152237" y="333.218125" transform="rotate(-0 160.152237 333.218125)">20</text>
     </g>
    </g>
    <g id="xtick_3">
     <g id="line2d_3">
      <g>
       <use href="#m1504cfccaf" x="223.842857" y="317.1" style="stroke: #000000; stroke-width: 0.8"/>
      </g>
     </g>
     <g id="text_3">
      <text style="font-size: 12px; font-family: 'DejaVu Sans', 'Liberation Sans', sans-serif; text-anchor: middle" x="223.842857" y="333.218125" transform="rotate(-0 223.842857 333.218125)">0</text>
     </g>
    </g>
    <g id="xtick_4">
     <g id="line2d_4">
      <g>
       <use href="#m1504cfccaf" x="287.533477" y="317.1" style="stroke: #000000; stroke-width: 0.8"/>
      </g>
     </g>
     <g id="text_4">
      <text style="font-size: 12px; font-family: 'DejaVu Sans', 'Liberation Sans', sans-serif; text-anchor: middle" x="287.533477" y="333.218125" transform="rotate(-0 287.533477 333.218125)">−20</text>
     </g>
    </g>
    <g id="xtick_5">
     <g id="line2d_5">
      <g>
       <use href="#m1504cfccaf" x="351.224097" y="317.1" style="stroke: #000000; stroke-width: 0.8"/>
      </g>
     </g>
     <g id="text_5">
      <text style="font-size: 12px; font-family: 'DejaVu Sans', 'Liberation Sans', sans-serif; text-anchor: middle" x="351.224097" y="333.218125" transform="rotate(-0 351.224097 333.218125)">−40</text>
     </g>
    </g>
    <g id="text_6">
     
     <g transform="translate(186.952857 350.351562)">
      <text>
       <tspan x="0" y="-0.359375" style="font-size: 14px; font-family: 'DejaVu Sans', 'Liberation Sans', sans-serif">Δ</tspan>
       <tspan x="9.577148" y="-0.359375" style="font-size: 14px; font-family: 'DejaVu Sans', 'Liberation Sans', sans-serif">R</tspan>
       <tspan x="19.304688" y="-0.359375" style="font-size: 14px; font-family: 'DejaVu Sans', 'Liberation Sans', sans-serif">A</tspan>
       <tspan x="28.881836" y="-0.359375" style="font-size: 14px; font-family: 'DejaVu Sans', 'Liberation Sans', sans-serif"> </tspan>
       <tspan x="33.332031" y="-0.359375" style="font-size: 14px; font-family: 'DejaVu Sans', 'Liberation Sans', sans-serif">[</tspan>
       <tspan x="38.793945" y="-0.359375" style="font-size: 14px; font-family: 'DejaVu Sans', 'Liberation Sans', sans-serif">m</tspan>
       <tspan x="52.431641" y="-0.359375" style="font-size: 14px; font-family: 'DejaVu Sans', 'Liberation Sans', sans-serif">a</tspan>
       <tspan x="61.010742" y="-0.359375" style="font-size: 14px; font-family: 'DejaVu Sans', 'Liberation Sans', sans-serif">s</tspan>
       <tspan x="68.304688" y="-0.359375" style="font-size: 14px; font-family: 'DejaVu Sans', 'Liberation Sans', sans-serif">]</tspan>
      </text>
     </g>
    </g>
   </g>
   <g id="matplotlib.axis_2">
    <g id="ytick_1">
     <g id="line2d_6">
      <defs>
       <path id="m5d545ce8f8" d="M 0 0 
L -3.5 0 
" style="stroke: #000000; stroke-width: 0.8"/>
      </defs>
      <g>
       <use href="#m5d545ce8f8" x="91.971429" y="312.606163" style="stroke: #000000; stroke-width: 0.8"/>
      </g>
     </g>
     <g id="text_7">
      <text style="font-size: 12px; font-family: 'DejaVu Sans', 'Liberation Sans', sans-serif; text-anchor: end" x="84.971429" y="317.165226" transform="rotate(-0 84.971429 317.165226)">−40</text>
     </g>
    </g>
    <g id="ytick_2">
     <g id="line2d_7">
      <g>
       <use href="#m5d545ce8f8" x="91.971429" y="280.734979" style="stroke: #000000; stroke-width: 0.8"/>
      </g>
     </g>
     <g id="text_8">
      <text style="font-size: 12px; font-family: 'DejaVu Sans', 'Liberation Sans', sans-serif; text-anchor: end" x="84.971429" y="285.294042" transform="rotate(-0 84.971429 285.294042)">−30</text>
     </g>
    </g>
    <g id="ytick_3">
     <g id="line2d_8">
      <g>
       <use href="#m5d545ce8f8" x="91.971429" y="248.863796" style="stroke: #000000; stroke-width: 0.8"/>
      </g>
     </g>
     <g id="text_9">
      <text style="font-size: 12px; font-family: 'DejaVu Sans', 'Liberation Sans', sans-serif; text-anchor: end" x="84.971429" y="253.422858" transform="rotate(-0 84.971429 253.422858)">−20</text>
     </g>
    </g>
    <g id="ytick_4">
     <g id="line2d_9">
      <g>
       <use href="#m5d545ce8f8" x="91.971429" y="216.992612" style="stroke: #000000; stroke-width: 0.8"/>
      </g>
     </g>
     <g id="text_10">
      <text style="font-size: 12px; font-family: 'DejaVu Sans', 'Liberation Sans', sans-serif; text-anchor: end" x="84.971429" y="221.551675" transform="rotate(-0 84.971429 221.551675)">−10</text>
     </g>
    </g>
    <g id="ytick_5">
     <g id="line2d_10">
      <g>
       <use href="#m5d545ce8f8" x="91.971429" y="185.121429" style="stroke: #000000; stroke-width: 0.8"/>
      </g>
     </g>
     <g id="text_11">
      <text style="font-size: 12px; font-family: 'DejaVu Sans', 'Liberation Sans', sans-serif; text-anchor: end" x="84.971429" y="189.680491" transform="rotate(-0 84.971429 189.680491)">0</text>
     </g>
    </g>
    <g id="ytick_6">
     <g id="line2d_11">
      <g>
       <use href="#m5d545ce8f8" x="91.971429" y="153.250245" style="stroke: #000000; stroke-width: 0.8"/>
      </g>
     </g>
     <g id="text_12">
      <text style="font-size: 12px; font-family: 'DejaVu Sans', 'Liberation Sans', sans-serif; text-anchor: end" x="84.971429" y="157.809307" transform="rotate(-0 84.971429 157.809307)">10</text>
     </g>
    </g>
    <g id="ytick_7">
     <g id="line2d_12">
      <g>
       <use href="#m5d545ce8f8" x="91.971429" y="121.379061" style="stroke: #000000; stroke-width: 0.8"/>
      </g>
     </g>
     <g id="text_13">
      <text style="font-size: 12px; font-family: 'DejaVu Sans', 'Liberation Sans', sans-serif; text-anchor: end" x="84.971429" y="125.938124" transform="rotate(-0 84.971429 125.938124)">20</text>
     </g>
    </g>
    <g id="ytick_8">
     <g id="line2d_13">
      <g>
       <use href="#m5d545ce8f8" x="91.971429" y="89.507878" style="stroke: #000000; stroke-width: 0.8"/>
      </g>
     </g>
     <g id="text_14">
      <text style="font-size: 12px; font-family: 'DejaVu Sans', 'Liberation Sans', sans-serif; text-anchor: end" x="84.971429" y="94.06694" transform="rotate(-0 84.971429 94.06694)">30</text>
     </g>
    </g>
    <g id="ytick_9">
     <g id="line2d_14">
      <g>
       <use href="#m5d545ce8f8" x="91.971429" y="57.636694" style="stroke: #000000; stroke-width: 0.8"/>
      </g>
     </g>
     <g id="text_15">
      <text style="font-size: 12px; font-family: 'DejaVu Sans', 'Liberation Sans', sans-serif; text-anchor: end" x="84.971429" y="62.195757" transform="rotate(-0 84.971429 62.195757)">40</text>
     </g>
    </g>
    <g id="text_16">
     
     <g transform="translate(52.734241 227.121429) rotate(-90)">
      <text>
       <tspan x="0" y="-0.359375" style="font-size: 14px; font-family: 'DejaVu Sans', 'Liberation Sans', sans-serif">Δ</tspan>
       <tspan x="9.577148" y="-0.359375" style="font-size: 14px; font-family: 'DejaVu Sans', 'Liberation Sans', sans-serif">D</tspan>
       <tspan x="20.357422" y="-0.359375" style="font-size: 14px; font-family: 'DejaVu Sans', 'Liberation Sans', sans-serif">E</tspan>
       <tspan x="29.203125" y="-0.359375" style="font-size: 14px; font-family: 'DejaVu Sans', 'Liberation Sans', sans-serif">C</tspan>
       <tspan x="38.978516" y="-0.359375" style="font-size: 14px; font-family: 'DejaVu Sans', 'Liberation Sans', sans-serif"> </tspan>
       <tspan x="43.428711" y="-0.359375" style="font-size: 14px; font-family: 'DejaVu Sans', 'Liberation Sans', sans-serif">[</tspan>
       <tspan x="48.890625" y="-0.359375" style="font-size: 14px; font-family: 'DejaVu Sans', 'Liberation Sans', sans-serif">m</tspan>
       <tspan x="62.52832" y="-0.359375" style="font-size: 14px; font-family: 'DejaVu Sans', 'Liberation Sans', sans-serif">a</tspan>
       <tspan x="71.107422" y="-0.359375" style="font-size: 14px; font-family: 'DejaVu Sans', 'Liberation Sans', sans-serif">s</tspan>
       <tspan x="78.401367" y="-0.359375" style="font-size: 14px; font-family: 'DejaVu Sans', 'Liberation Sans', sans-serif">]</tspan>
      </text>
     </g>
    </g>
   </g>
   <g id="patch_3">
    <path d="M 91.971429 317.1 
L 91.971429 53.142857 
" style="fill: none; stroke: #000000; stroke-width: 0.8; stroke-linejoin: miter; stroke-linecap: square"/>
   </g>
   <g id="patch_4">
    <path d="M 355.714286 317.1 
L 355.714286 53.142857 
" style="fill: none; stroke: #000000; stroke-width: 0.8; stroke-linejoin: miter; stroke-linecap: square"/>
   </g>
   <g id="patch_5">
    <path d="M 91.971429 317.1 
L 355.714286 317.1 
" style="fill: none; stroke: #000000; stroke-width: 0.8; stroke-linejoin: miter; stroke-linecap: square"/>
   </g>
   <g id="patch_6">
    <path d="M 91.971429 53.142857 
L 355.714286 53.142857 
" style="fill: none; stroke: #000000; stroke-width: 0.8; stroke-linejoin: miter; stroke-linecap: square"/>
   </g>
   <g id="line2d_15">
    <defs>
     <path id="m68e630343b" d="M 0 -5 
L -1.12257 -1.545085 
L -4.755283 -1.545085 
L -1.816356 0.59017 
L -2.938926 4.045085 
L -0 1.90983 
L 2.938926 4.045085 
L 1.816356 0.59017 
L 4.755283 -1.545085 
L 1.12257 -1.545085 
z
" style="stroke: #000000; stroke-linejoin: bevel"/>
    </defs>
    <g clip-path="url(#pc8fe399bf5)">
     <use href="#m68e630343b" x="223.842857" y="185.121429" style="stroke: #000000; stroke-linejoin: bevel"/>
    </g>
   </g>
   <g id="text_17">
    <text style="font-size: 14.4px; font-family: 'DejaVu Sans', 'Liberation Sans', sans-serif; text-anchor: middle" x="223.842857" y="47.142857" transform="rotate(-0 223.842857 47.142857)">Method Absil</text>
   </g>
  </g>
  <g id="axes_2">
   <g id="patch_7">
    <path d="M 538.328571 317.1 
L 802.114286 317.1 
L 802.114286 53.142857 
L 538.328571 53.142857 
z
" style="fill: #ffffff"/>
   </g>
   <g id="HEAT_ax2"><g transform="scale(0.4285714)" shape-rendering="crispEdges">
<path fill="#c8c8e8" d="M1485 138h14v15h-14zM1600 138h14v15h-14zM1557 153h14v14h-14zM1657 167h14v14h-14zM1414 181h14v15h-14zM1571 181h14v15h-14zM1542 196h15v14h-15zM1456 210h15v14h-15zM1499 210h15v14h-15zM1542 210h15v14h-15zM1700 210h14v14h-14zM1342 224h14v15h-14zM1499 224h15v15h-15zM1471 239h14v14h-14zM1585 239h15v14h-15zM1614 239h14v14h-14zM1728 239h15v14h-15zM1385 253h14v14h-14zM1399 253h15v14h-15zM1414 253h14v14h-14zM1442 253h14v14h-14zM1499 267h15v15h-15zM1528 267h14v15h-14zM1557 267h14v15h-14zM1571 267h14v15h-14zM1614 267h14v15h-14zM1643 267h14v15h-14zM1771 267h15v15h-15zM1800 267h14v15h-14zM1356 282h15v14h-15zM1414 282h14v14h-14zM1385 296h14v14h-14zM1456 296h15v14h-15zM1471 296h14v14h-14zM1528 296h14v14h-14zM1571 296h14v14h-14zM1714 296h14v14h-14zM1285 310h14v15h-14zM1585 310h15v15h-15zM1829 310h14v15h-14zM1342 325h14v14h-14zM1356 325h15v14h-15zM1456 325h15v14h-15zM1585 325h15v14h-15zM1399 339h15v14h-15zM1499 339h15v14h-15zM1585 339h15v14h-15zM1757 339h14v14h-14zM1399 353h15v14h-15zM1428 353h14v14h-14zM1485 353h14v14h-14zM1499 353h15v14h-15zM1528 353h14v14h-14zM1571 353h14v14h-14zM1671 353h15v14h-15zM1771 353h15v14h-15zM1786 353h14v14h-14zM1399 367h15v15h-15zM1528 367h14v15h-14zM1800 367h14v15h-14zM1399 382h15v14h-15zM1442 382h14v14h-14zM1628 382h15v14h-15zM1714 382h14v14h-14zM1356 396h15v14h-15zM1614 396h14v14h-14zM1686 396h14v14h-14zM1714 396h14v14h-14zM1829 396h14v14h-14zM1270 410h15v15h-15zM1371 410h14v15h-14zM1585 410h15v15h-15zM1743 410h14v15h-14zM1757 410h14v15h-14zM1285 425h14v14h-14zM1456 425h15v14h-15zM1628 425h15v14h-15zM1657 425h14v14h-14zM1743 439h14v14h-14zM1299 453h14v15h-14zM1313 453h15v15h-15zM1399 453h15v15h-15zM1800 453h14v15h-14zM1814 453h15v15h-15zM1471 468h14v14h-14zM1714 468h14v14h-14zM1728 468h15v14h-15zM1371 482h14v14h-14zM1471 482h14v14h-14zM1686 482h14v14h-14zM1786 482h14v14h-14zM1456 496h15v15h-15zM1686 496h14v15h-14zM1843 496h14v15h-14zM1514 511h14v14h-14zM1585 511h15v14h-15zM1686 511h14v14h-14zM1371 525h14v14h-14zM1385 525h14v14h-14zM1671 525h15v14h-15zM1628 539h15v15h-15zM1728 539h15v15h-15zM1414 554h14v14h-14zM1571 554h14v14h-14zM1728 554h15v14h-15zM1743 554h14v14h-14zM1800 554h14v14h-14zM1571 568h14v14h-14zM1814 568h15v14h-15zM1328 582h14v15h-14zM1471 582h14v15h-14zM1485 582h14v15h-14zM1671 582h15v15h-15zM1786 582h14v15h-14zM1371 597h14v14h-14zM1485 597h14v14h-14zM1743 597h14v14h-14zM1385 611h14v14h-14zM1414 611h14v14h-14zM1528 611h14v14h-14zM1628 611h15v14h-15zM1643 611h14v14h-14zM1557 625h14v15h-14zM1414 640h14v14h-14zM1442 640h14v14h-14zM1456 640h15v14h-15zM1542 640h15v14h-15zM1557 640h14v14h-14zM1614 640h14v14h-14zM1442 654h14v14h-14zM1571 654h14v14h-14zM1686 654h14v14h-14zM1700 654h14v14h-14zM1471 668h14v15h-14zM1485 668h14v15h-14zM1528 668h14v15h-14zM1700 668h14v15h-14zM1485 683h14v14h-14zM1528 683h14v14h-14zM1657 683h14v14h-14z"/>
<path fill="#f08c9e" d="M1499 138h15v15h-15zM1542 138h15v15h-15zM1557 138h14v15h-14zM1571 138h14v15h-14zM1628 138h15v15h-15zM1571 153h14v14h-14zM1585 153h15v14h-15zM1614 153h14v14h-14zM1643 153h14v14h-14zM1542 167h15v14h-15zM1600 167h14v14h-14zM1614 167h14v14h-14zM1686 167h14v14h-14zM1442 181h14v15h-14zM1456 181h15v15h-15zM1499 181h15v15h-15zM1557 181h14v15h-14zM1700 181h14v15h-14zM1456 196h15v14h-15zM1499 196h15v14h-15zM1657 196h14v14h-14zM1686 196h14v14h-14zM1356 210h15v14h-15zM1428 210h14v14h-14zM1542 224h15v15h-15zM1557 224h14v15h-14zM1600 224h14v15h-14zM1657 224h14v15h-14zM1700 224h14v15h-14zM1714 224h14v15h-14zM1728 224h15v15h-15zM1771 224h15v15h-15zM1442 239h14v14h-14zM1542 239h15v14h-15zM1600 239h14v14h-14zM1643 239h14v14h-14zM1686 239h14v14h-14zM1342 253h14v14h-14zM1600 253h14v14h-14zM1786 253h14v14h-14zM1313 267h15v15h-15zM1471 267h14v15h-14zM1686 267h14v15h-14zM1743 267h14v15h-14zM1342 282h14v14h-14zM1371 282h14v14h-14zM1514 282h14v14h-14zM1628 282h15v14h-15zM1728 282h15v14h-15zM1757 282h14v14h-14zM1814 282h15v14h-15zM1414 296h14v14h-14zM1728 296h15v14h-15zM1800 296h14v14h-14zM1428 310h14v15h-14zM1628 310h15v15h-15zM1771 310h15v15h-15zM1786 310h14v15h-14zM1800 310h14v15h-14zM1471 325h14v14h-14zM1571 325h14v14h-14zM1771 325h15v14h-15zM1285 339h14v14h-14zM1371 339h14v14h-14zM1456 339h15v14h-15zM1686 339h14v14h-14zM1700 339h14v14h-14zM1714 339h14v14h-14zM1800 339h14v14h-14zM1285 353h14v14h-14zM1299 353h14v14h-14zM1342 353h14v14h-14zM1385 353h14v14h-14zM1714 353h14v14h-14zM1414 367h14v15h-14zM1514 367h14v15h-14zM1728 367h15v15h-15zM1757 367h14v15h-14zM1814 367h15v15h-15zM1428 382h14v14h-14zM1485 382h14v14h-14zM1829 382h14v14h-14zM1313 396h15v14h-15zM1399 396h15v14h-15zM1414 396h14v14h-14zM1428 396h14v14h-14zM1514 396h14v14h-14zM1528 396h14v14h-14zM1728 396h15v14h-15zM1757 396h14v14h-14zM1786 396h14v14h-14zM1800 396h14v14h-14zM1299 410h14v15h-14zM1628 410h15v15h-15zM1356 425h15v14h-15zM1471 425h14v14h-14zM1786 425h14v14h-14zM1814 425h15v14h-15zM1356 439h15v14h-15zM1686 439h14v14h-14zM1771 439h15v14h-15zM1786 439h14v14h-14zM1843 439h14v14h-14zM1342 453h14v15h-14zM1428 453h14v15h-14zM1585 453h15v15h-15zM1628 453h15v15h-15zM1714 453h14v15h-14zM1757 453h14v15h-14zM1628 468h15v14h-15zM1671 468h15v14h-15zM1771 468h15v14h-15zM1313 482h15v14h-15zM1385 482h14v14h-14zM1485 482h14v14h-14zM1643 482h14v14h-14zM1671 482h15v14h-15zM1299 496h14v15h-14zM1542 496h15v15h-15zM1728 496h15v15h-15zM1829 496h14v15h-14zM1313 511h15v14h-15zM1328 511h14v14h-14zM1428 511h14v14h-14zM1714 511h14v14h-14zM1728 511h15v14h-15zM1285 525h14v14h-14zM1299 525h14v14h-14zM1313 525h15v14h-15zM1342 525h14v14h-14zM1428 525h14v14h-14zM1471 525h14v14h-14zM1728 525h15v14h-15zM1471 539h14v15h-14zM1585 539h15v15h-15zM1800 539h14v15h-14zM1328 554h14v14h-14zM1342 554h14v14h-14zM1514 554h14v14h-14zM1757 554h14v14h-14zM1356 568h15v14h-15zM1385 568h14v14h-14zM1414 568h14v14h-14zM1485 568h14v14h-14zM1671 568h15v14h-15zM1686 568h14v14h-14zM1728 568h15v14h-15zM1385 582h14v15h-14zM1557 582h14v15h-14zM1628 582h15v15h-15zM1757 582h14v15h-14zM1528 597h14v14h-14zM1542 597h15v14h-15zM1643 597h14v14h-14zM1428 611h14v14h-14zM1456 611h15v14h-15zM1557 611h14v14h-14zM1728 611h15v14h-15zM1442 625h14v15h-14zM1456 625h15v15h-15zM1485 625h14v15h-14zM1600 625h14v15h-14zM1600 640h14v14h-14zM1428 654h14v14h-14zM1499 654h15v14h-15zM1514 654h14v14h-14zM1542 654h15v14h-15zM1585 654h15v14h-15zM1671 654h15v14h-15zM1714 654h14v14h-14zM1499 668h15v15h-15zM1542 668h15v15h-15zM1643 668h14v15h-14zM1456 683h15v14h-15zM1471 683h14v14h-14zM1643 683h14v14h-14zM1456 697h15v14h-15zM1542 697h15v14h-15zM1614 711h14v15h-14z"/>
<path fill="#d78769" d="M1514 138h14v15h-14zM1485 153h14v14h-14zM1428 167h14v14h-14zM1585 167h15v14h-15zM1700 167h14v14h-14zM1686 181h14v15h-14zM1514 196h14v14h-14zM1528 196h14v14h-14zM1614 196h14v14h-14zM1643 196h14v14h-14zM1743 196h14v14h-14zM1528 210h14v14h-14zM1757 210h14v14h-14zM1342 239h14v14h-14zM1771 239h15v14h-15zM1585 267h15v15h-15zM1728 267h15v15h-15zM1328 282h14v14h-14zM1714 282h14v14h-14zM1399 296h15v14h-15zM1743 296h14v14h-14zM1757 296h14v14h-14zM1771 296h15v14h-15zM1786 296h14v14h-14zM1471 310h14v15h-14zM1757 310h14v15h-14zM1385 325h14v14h-14zM1700 325h14v14h-14zM1786 325h14v14h-14zM1800 325h14v14h-14zM1829 325h14v14h-14zM1557 339h14v14h-14zM1786 339h14v14h-14zM1814 339h15v14h-15zM1829 339h14v14h-14zM1471 353h14v14h-14zM1600 353h14v14h-14zM1686 353h14v14h-14zM1700 353h14v14h-14zM1829 353h14v14h-14zM1843 353h14v14h-14zM1270 367h15v15h-15zM1700 367h14v15h-14zM1843 367h14v15h-14zM1414 382h14v14h-14zM1528 382h14v14h-14zM1600 382h14v14h-14zM1743 382h14v14h-14zM1757 382h14v14h-14zM1771 382h15v14h-15zM1270 396h15v14h-15zM1643 396h14v14h-14zM1671 396h15v14h-15zM1743 396h14v14h-14zM1771 396h15v14h-15zM1328 410h14v15h-14zM1814 410h15v15h-15zM1313 425h15v14h-15zM1643 425h14v14h-14zM1686 425h14v14h-14zM1714 425h14v14h-14zM1385 453h14v15h-14zM1456 453h15v15h-15zM1514 453h14v15h-14zM1829 453h14v15h-14zM1285 468h14v14h-14zM1385 468h14v14h-14zM1499 468h15v14h-15zM1528 468h14v14h-14zM1829 468h14v14h-14zM1285 482h14v14h-14zM1399 482h15v14h-15zM1557 496h14v15h-14zM1643 496h14v15h-14zM1671 496h15v15h-15zM1786 511h14v14h-14zM1800 511h14v14h-14zM1814 511h15v14h-15zM1328 525h14v14h-14zM1571 525h14v14h-14zM1700 525h14v14h-14zM1342 539h14v15h-14zM1356 539h15v15h-15zM1442 539h14v15h-14zM1371 554h14v14h-14zM1600 554h14v14h-14zM1743 568h14v14h-14zM1771 568h15v14h-15zM1643 582h14v15h-14zM1399 597h15v14h-15zM1414 597h14v14h-14zM1557 597h14v14h-14zM1600 597h14v14h-14zM1342 625h14v15h-14zM1356 625h15v15h-15zM1671 625h15v15h-15zM1686 625h14v15h-14zM1385 640h14v14h-14zM1485 640h14v14h-14zM1585 640h15v14h-15zM1757 640h14v14h-14zM1557 668h14v15h-14zM1428 683h14v14h-14zM1700 683h14v14h-14zM1542 711h15v15h-15z"/>
<path fill="#d4b2d4" d="M1528 138h14v15h-14zM1585 138h15v15h-15zM1614 138h14v15h-14zM1499 153h15v14h-15zM1528 153h14v14h-14zM1671 153h15v14h-15zM1499 167h15v14h-15zM1528 167h14v14h-14zM1643 167h14v14h-14zM1671 167h15v14h-15zM1514 181h14v15h-14zM1528 181h14v15h-14zM1585 181h15v15h-15zM1600 181h14v15h-14zM1628 181h15v15h-15zM1371 196h14v14h-14zM1385 196h14v14h-14zM1571 196h14v14h-14zM1585 196h15v14h-15zM1600 196h14v14h-14zM1714 196h14v14h-14zM1399 210h15v14h-15zM1442 210h14v14h-14zM1485 210h14v14h-14zM1399 224h15v15h-15zM1528 224h14v15h-14zM1585 224h15v15h-15zM1628 224h15v15h-15zM1743 224h14v15h-14zM1356 239h15v14h-15zM1485 239h14v14h-14zM1571 239h14v14h-14zM1757 239h14v14h-14zM1485 253h14v14h-14zM1499 253h15v14h-15zM1542 253h15v14h-15zM1614 253h14v14h-14zM1643 253h14v14h-14zM1328 267h14v15h-14zM1442 267h14v15h-14zM1485 267h14v15h-14zM1542 267h15v15h-15zM1628 267h15v15h-15zM1671 267h15v15h-15zM1399 282h15v14h-15zM1528 282h14v14h-14zM1557 282h14v14h-14zM1614 282h14v14h-14zM1686 282h14v14h-14zM1700 282h14v14h-14zM1771 282h15v14h-15zM1786 282h14v14h-14zM1356 296h15v14h-15zM1442 296h14v14h-14zM1485 296h14v14h-14zM1542 296h15v14h-15zM1671 296h15v14h-15zM1814 296h15v14h-15zM1356 310h15v15h-15zM1442 310h14v15h-14zM1514 310h14v15h-14zM1686 310h14v15h-14zM1714 310h14v15h-14zM1728 310h15v15h-15zM1814 310h15v15h-15zM1485 325h14v14h-14zM1528 325h14v14h-14zM1356 339h15v14h-15zM1442 339h14v14h-14zM1600 339h14v14h-14zM1614 339h14v14h-14zM1628 339h15v14h-15zM1657 339h14v14h-14zM1728 339h15v14h-15zM1270 353h15v14h-15zM1800 353h14v14h-14zM1313 367h15v15h-15zM1342 367h14v15h-14zM1643 367h14v15h-14zM1771 367h15v15h-15zM1342 382h14v14h-14zM1356 382h15v14h-15zM1371 382h14v14h-14zM1385 382h14v14h-14zM1385 396h14v14h-14zM1471 396h14v14h-14zM1557 396h14v14h-14zM1814 396h15v14h-15zM1843 396h14v14h-14zM1285 410h14v15h-14zM1385 410h14v15h-14zM1700 410h14v15h-14zM1771 410h15v15h-15zM1485 425h14v14h-14zM1728 425h15v14h-15zM1299 439h14v14h-14zM1328 439h14v14h-14zM1428 439h14v14h-14zM1571 439h14v14h-14zM1757 439h14v14h-14zM1814 439h15v14h-15zM1328 453h14v15h-14zM1671 453h15v15h-15zM1728 453h15v15h-15zM1786 453h14v15h-14zM1371 468h14v14h-14zM1643 468h14v14h-14zM1657 468h14v14h-14zM1786 468h14v14h-14zM1800 468h14v14h-14zM1814 468h15v14h-15zM1342 482h14v14h-14zM1356 482h15v14h-15zM1414 482h14v14h-14zM1585 482h15v14h-15zM1600 482h14v14h-14zM1628 482h15v14h-15zM1342 496h14v15h-14zM1356 496h15v15h-15zM1442 496h14v15h-14zM1514 496h14v15h-14zM1628 496h15v15h-15zM1771 496h15v15h-15zM1285 511h14v14h-14zM1385 511h14v14h-14zM1399 511h15v14h-15zM1471 511h14v14h-14zM1628 511h15v14h-15zM1771 511h15v14h-15zM1414 525h14v14h-14zM1528 525h14v14h-14zM1600 525h14v14h-14zM1628 525h15v14h-15zM1643 525h14v14h-14zM1743 525h14v14h-14zM1771 525h15v14h-15zM1299 539h14v15h-14zM1313 539h15v15h-15zM1385 539h14v15h-14zM1399 539h15v15h-15zM1428 539h14v15h-14zM1743 539h14v15h-14zM1786 539h14v15h-14zM1829 539h14v15h-14zM1299 554h14v14h-14zM1313 554h15v14h-15zM1456 554h15v14h-15zM1471 554h14v14h-14zM1557 554h14v14h-14zM1686 554h14v14h-14zM1786 554h14v14h-14zM1814 554h15v14h-15zM1342 568h14v14h-14zM1471 568h14v14h-14zM1628 568h15v14h-15zM1714 568h14v14h-14zM1313 582h15v15h-15zM1356 582h15v15h-15zM1514 582h14v15h-14zM1542 582h15v15h-15zM1714 582h14v15h-14zM1771 582h15v15h-15zM1342 597h14v14h-14zM1385 597h14v14h-14zM1456 597h15v14h-15zM1471 597h14v14h-14zM1585 597h15v14h-15zM1628 597h15v14h-15zM1728 597h15v14h-15zM1786 597h14v14h-14zM1399 611h15v14h-15zM1485 611h14v14h-14zM1614 611h14v14h-14zM1757 611h14v14h-14zM1385 625h14v15h-14zM1399 625h15v15h-15zM1428 625h14v15h-14zM1499 625h15v15h-15zM1585 625h15v15h-15zM1643 625h14v15h-14zM1714 625h14v15h-14zM1771 625h15v15h-15zM1399 640h15v14h-15zM1528 640h14v14h-14zM1571 640h14v14h-14zM1628 640h15v14h-15zM1657 640h14v14h-14zM1728 640h15v14h-15zM1528 654h14v14h-14zM1628 654h15v14h-15zM1743 654h14v14h-14zM1456 668h15v15h-15zM1571 668h14v15h-14zM1585 668h15v15h-15zM1600 668h14v15h-14zM1614 668h14v15h-14zM1600 683h14v14h-14zM1671 683h15v14h-15zM1514 697h14v14h-14zM1528 697h14v14h-14zM1571 697h14v14h-14zM1643 697h14v14h-14zM1571 711h14v15h-14zM1600 711h14v15h-14z"/>
<path fill="#c0def2" d="M1442 153h14v14h-14zM1514 167h14v14h-14zM1471 181h14v15h-14zM1428 196h14v14h-14zM1442 196h14v14h-14zM1485 196h14v14h-14zM1700 196h14v14h-14zM1385 210h14v14h-14zM1671 210h15v14h-15zM1514 224h14v15h-14zM1614 224h14v15h-14zM1371 239h14v14h-14zM1414 239h14v14h-14zM1428 239h14v14h-14zM1528 239h14v14h-14zM1743 239h14v14h-14zM1428 253h14v14h-14zM1528 253h14v14h-14zM1657 253h14v14h-14zM1342 267h14v15h-14zM1657 267h14v15h-14zM1786 267h14v15h-14zM1313 282h15v14h-15zM1485 282h14v14h-14zM1313 296h15v14h-15zM1385 310h14v15h-14zM1528 310h14v15h-14zM1542 310h15v15h-15zM1600 310h14v15h-14zM1614 310h14v15h-14zM1285 325h14v14h-14zM1442 325h14v14h-14zM1600 325h14v14h-14zM1743 325h14v14h-14zM1514 339h14v14h-14zM1643 339h14v14h-14zM1743 339h14v14h-14zM1313 353h15v14h-15zM1414 353h14v14h-14zM1328 367h14v15h-14zM1499 367h15v15h-15zM1542 367h15v15h-15zM1571 367h14v15h-14zM1628 367h15v15h-15zM1671 367h15v15h-15zM1786 367h14v15h-14zM1557 382h14v14h-14zM1571 382h14v14h-14zM1414 425h14v14h-14zM1428 425h14v14h-14zM1671 425h15v14h-15zM1757 425h14v14h-14zM1399 439h15v14h-15zM1414 439h14v14h-14zM1628 439h15v14h-15zM1643 439h14v14h-14zM1671 439h15v14h-15zM1414 453h14v15h-14zM1557 453h14v15h-14zM1571 453h14v15h-14zM1414 468h14v14h-14zM1442 468h14v14h-14zM1542 468h15v14h-15zM1442 482h14v14h-14zM1557 482h14v14h-14zM1714 482h14v14h-14zM1471 496h14v15h-14zM1528 496h14v15h-14zM1585 496h15v15h-15zM1600 496h14v15h-14zM1700 496h14v15h-14zM1786 496h14v15h-14zM1614 511h14v14h-14zM1743 511h14v14h-14zM1514 525h14v14h-14zM1757 525h14v14h-14zM1829 525h14v14h-14zM1414 539h14v15h-14zM1514 539h14v15h-14zM1528 539h14v15h-14zM1571 539h14v15h-14zM1671 539h15v15h-15zM1442 554h14v14h-14zM1442 568h14v14h-14zM1542 568h15v14h-15zM1342 582h14v15h-14zM1456 582h15v15h-15zM1499 582h15v15h-15zM1585 582h15v15h-15zM1600 582h14v15h-14zM1614 582h14v15h-14zM1700 582h14v15h-14zM1514 597h14v14h-14zM1371 611h14v14h-14zM1499 611h15v14h-15zM1743 611h14v14h-14zM1414 625h14v15h-14zM1528 625h14v15h-14zM1657 625h14v15h-14zM1614 654h14v14h-14z"/>
<path fill="#ec98c0" d="M1456 153h15v14h-15zM1471 153h14v14h-14zM1514 153h14v14h-14zM1542 153h15v14h-15zM1600 153h14v14h-14zM1657 153h14v14h-14zM1414 167h14v14h-14zM1442 167h14v14h-14zM1456 167h15v14h-15zM1471 167h14v14h-14zM1557 167h14v14h-14zM1571 167h14v14h-14zM1628 167h15v14h-15zM1428 181h14v15h-14zM1485 181h14v15h-14zM1542 181h15v15h-15zM1614 181h14v15h-14zM1643 181h14v15h-14zM1657 181h14v15h-14zM1714 181h14v15h-14zM1414 196h14v14h-14zM1471 196h14v14h-14zM1557 196h14v14h-14zM1671 196h15v14h-15zM1371 210h14v14h-14zM1514 210h14v14h-14zM1557 210h14v14h-14zM1571 210h14v14h-14zM1585 210h15v14h-15zM1600 210h14v14h-14zM1614 210h14v14h-14zM1628 210h15v14h-15zM1643 210h14v14h-14zM1657 210h14v14h-14zM1686 210h14v14h-14zM1714 210h14v14h-14zM1371 224h14v15h-14zM1414 224h14v15h-14zM1471 224h14v15h-14zM1485 224h14v15h-14zM1571 224h14v15h-14zM1643 224h14v15h-14zM1671 224h15v15h-15zM1757 224h14v15h-14zM1328 239h14v14h-14zM1456 239h15v14h-15zM1499 239h15v14h-15zM1514 239h14v14h-14zM1628 239h15v14h-15zM1700 239h14v14h-14zM1714 239h14v14h-14zM1371 253h14v14h-14zM1557 253h14v14h-14zM1571 253h14v14h-14zM1585 253h15v14h-15zM1628 253h15v14h-15zM1671 253h15v14h-15zM1686 253h14v14h-14zM1700 253h14v14h-14zM1714 253h14v14h-14zM1728 253h15v14h-15zM1743 253h14v14h-14zM1757 253h14v14h-14zM1771 253h15v14h-15zM1385 267h14v15h-14zM1414 267h14v15h-14zM1456 267h15v15h-15zM1514 267h14v15h-14zM1600 267h14v15h-14zM1757 267h14v15h-14zM1442 282h14v14h-14zM1499 282h15v14h-15zM1542 282h15v14h-15zM1643 282h14v14h-14zM1657 282h14v14h-14zM1671 282h15v14h-15zM1743 282h14v14h-14zM1800 282h14v14h-14zM1299 296h14v14h-14zM1328 296h14v14h-14zM1428 296h14v14h-14zM1557 296h14v14h-14zM1585 296h15v14h-15zM1600 296h14v14h-14zM1614 296h14v14h-14zM1643 296h14v14h-14zM1657 296h14v14h-14zM1328 310h14v15h-14zM1342 310h14v15h-14zM1456 310h15v15h-15zM1485 310h14v15h-14zM1499 310h15v15h-15zM1557 310h14v15h-14zM1571 310h14v15h-14zM1643 310h14v15h-14zM1657 310h14v15h-14zM1671 310h15v15h-15zM1700 310h14v15h-14zM1299 325h14v14h-14zM1371 325h14v14h-14zM1399 325h15v14h-15zM1414 325h14v14h-14zM1428 325h14v14h-14zM1628 325h15v14h-15zM1643 325h14v14h-14zM1686 325h14v14h-14zM1714 325h14v14h-14zM1757 325h14v14h-14zM1299 339h14v14h-14zM1313 339h15v14h-15zM1342 339h14v14h-14zM1485 339h14v14h-14zM1528 339h14v14h-14zM1571 339h14v14h-14zM1771 339h15v14h-15zM1514 353h14v14h-14zM1542 353h15v14h-15zM1585 353h15v14h-15zM1628 353h15v14h-15zM1757 353h14v14h-14zM1814 353h15v14h-15zM1285 367h14v15h-14zM1299 367h14v15h-14zM1385 367h14v15h-14zM1428 367h14v15h-14zM1442 367h14v15h-14zM1456 367h15v15h-15zM1686 367h14v15h-14zM1714 367h14v15h-14zM1299 382h14v14h-14zM1313 382h15v14h-15zM1328 382h14v14h-14zM1585 382h15v14h-15zM1643 382h14v14h-14zM1671 382h15v14h-15zM1728 382h15v14h-15zM1786 382h14v14h-14zM1800 382h14v14h-14zM1814 382h15v14h-15zM1843 382h14v14h-14zM1299 396h14v14h-14zM1342 396h14v14h-14zM1442 396h14v14h-14zM1571 396h14v14h-14zM1628 396h15v14h-15zM1342 410h14v15h-14zM1356 410h15v15h-15zM1414 410h14v15h-14zM1428 410h14v15h-14zM1442 410h14v15h-14zM1471 410h14v15h-14zM1485 410h14v15h-14zM1528 410h14v15h-14zM1542 410h15v15h-15zM1671 410h15v15h-15zM1714 410h14v15h-14zM1728 410h15v15h-15zM1786 410h14v15h-14zM1829 410h14v15h-14zM1843 410h14v15h-14zM1270 425h15v14h-15zM1299 425h14v14h-14zM1328 425h14v14h-14zM1342 425h14v14h-14zM1371 425h14v14h-14zM1385 425h14v14h-14zM1399 425h15v14h-15zM1442 425h14v14h-14zM1528 425h14v14h-14zM1600 425h14v14h-14zM1771 425h15v14h-15zM1829 425h14v14h-14zM1843 425h14v14h-14zM1285 439h14v14h-14zM1313 439h15v14h-15zM1342 439h14v14h-14zM1371 439h14v14h-14zM1385 439h14v14h-14zM1485 439h14v14h-14zM1514 439h14v14h-14zM1542 439h15v14h-15zM1728 439h15v14h-15zM1800 439h14v14h-14zM1829 439h14v14h-14zM1285 453h14v15h-14zM1371 453h14v15h-14zM1442 453h14v15h-14zM1485 453h14v15h-14zM1700 453h14v15h-14zM1743 453h14v15h-14zM1771 453h15v15h-15zM1270 468h15v14h-15zM1313 468h15v14h-15zM1328 468h14v14h-14zM1342 468h14v14h-14zM1356 468h15v14h-15zM1399 468h15v14h-15zM1428 468h14v14h-14zM1614 468h14v14h-14zM1686 468h14v14h-14zM1328 482h14v14h-14zM1428 482h14v14h-14zM1528 482h14v14h-14zM1542 482h15v14h-15zM1728 482h15v14h-15zM1771 482h15v14h-15zM1800 482h14v14h-14zM1814 482h15v14h-15zM1829 482h14v14h-14zM1843 482h14v14h-14zM1270 496h15v15h-15zM1285 496h14v15h-14zM1313 496h15v15h-15zM1328 496h14v15h-14zM1371 496h14v15h-14zM1385 496h14v15h-14zM1428 496h14v15h-14zM1499 496h15v15h-15zM1571 496h14v15h-14zM1714 496h14v15h-14zM1743 496h14v15h-14zM1757 496h14v15h-14zM1800 496h14v15h-14zM1299 511h14v14h-14zM1342 511h14v14h-14zM1356 511h15v14h-15zM1371 511h14v14h-14zM1442 511h14v14h-14zM1456 511h15v14h-15zM1528 511h14v14h-14zM1643 511h14v14h-14zM1657 511h14v14h-14zM1671 511h15v14h-15zM1700 511h14v14h-14zM1829 511h14v14h-14zM1356 525h15v14h-15zM1485 525h14v14h-14zM1542 525h15v14h-15zM1557 525h14v14h-14zM1585 525h15v14h-15zM1614 525h14v14h-14zM1686 525h14v14h-14zM1714 525h14v14h-14zM1814 525h15v14h-15zM1285 539h14v15h-14zM1328 539h14v15h-14zM1371 539h14v15h-14zM1499 539h15v15h-15zM1643 539h14v15h-14zM1686 539h14v15h-14zM1714 539h14v15h-14zM1757 539h14v15h-14zM1771 539h15v15h-15zM1814 539h15v15h-15zM1385 554h14v14h-14zM1399 554h15v14h-15zM1528 554h14v14h-14zM1585 554h15v14h-15zM1643 554h14v14h-14zM1657 554h14v14h-14zM1671 554h15v14h-15zM1700 554h14v14h-14zM1714 554h14v14h-14zM1299 568h14v14h-14zM1313 568h15v14h-15zM1328 568h14v14h-14zM1557 568h14v14h-14zM1614 568h14v14h-14zM1643 568h14v14h-14zM1657 568h14v14h-14zM1757 568h14v14h-14zM1786 568h14v14h-14zM1800 568h14v14h-14zM1371 582h14v15h-14zM1428 582h14v15h-14zM1442 582h14v15h-14zM1571 582h14v15h-14zM1657 582h14v15h-14zM1728 582h15v15h-15zM1800 582h14v15h-14zM1328 597h14v14h-14zM1356 597h15v14h-15zM1571 597h14v14h-14zM1657 597h14v14h-14zM1686 597h14v14h-14zM1700 597h14v14h-14zM1714 597h14v14h-14zM1757 597h14v14h-14zM1771 597h15v14h-15zM1342 611h14v14h-14zM1356 611h15v14h-15zM1471 611h14v14h-14zM1514 611h14v14h-14zM1542 611h15v14h-15zM1571 611h14v14h-14zM1657 611h14v14h-14zM1671 611h15v14h-15zM1686 611h14v14h-14zM1700 611h14v14h-14zM1714 611h14v14h-14zM1771 611h15v14h-15zM1371 625h14v15h-14zM1571 625h14v15h-14zM1614 625h14v15h-14zM1628 625h15v15h-15zM1700 625h14v15h-14zM1728 625h15v15h-15zM1743 625h14v15h-14zM1757 625h14v15h-14zM1428 640h14v14h-14zM1499 640h15v14h-15zM1643 640h14v14h-14zM1671 640h15v14h-15zM1686 640h14v14h-14zM1700 640h14v14h-14zM1714 640h14v14h-14zM1743 640h14v14h-14zM1399 654h15v14h-15zM1414 654h14v14h-14zM1471 654h14v14h-14zM1485 654h14v14h-14zM1557 654h14v14h-14zM1600 654h14v14h-14zM1643 654h14v14h-14zM1657 654h14v14h-14zM1442 668h14v15h-14zM1514 668h14v15h-14zM1657 668h14v15h-14zM1671 668h15v15h-15zM1686 668h14v15h-14zM1714 668h14v15h-14zM1442 683h14v14h-14zM1499 683h15v14h-15zM1514 683h14v14h-14zM1542 683h15v14h-15zM1557 683h14v14h-14zM1571 683h14v14h-14zM1585 683h15v14h-15zM1614 683h14v14h-14zM1686 683h14v14h-14zM1442 697h14v14h-14zM1485 697h14v14h-14zM1499 697h15v14h-15zM1557 697h14v14h-14zM1585 697h15v14h-15zM1600 697h14v14h-14zM1614 697h14v14h-14zM1628 697h15v14h-15zM1657 697h14v14h-14zM1671 697h15v14h-15zM1485 711h14v15h-14zM1499 711h15v15h-15zM1514 711h14v15h-14zM1528 711h14v15h-14zM1557 711h14v15h-14zM1585 711h15v15h-15zM1628 711h15v15h-15z"/>
<path fill="#bc884b" d="M1628 153h15v14h-15zM1399 181h15v15h-15zM1399 196h15v14h-15zM1728 210h15v14h-15zM1743 210h14v14h-14zM1385 224h14v15h-14zM1514 253h14v14h-14zM1356 267h15v15h-15zM1385 282h14v14h-14zM1514 296h14v14h-14zM1628 296h15v14h-15zM1299 310h14v15h-14zM1542 325h15v14h-15zM1557 325h14v14h-14zM1814 325h15v14h-15zM1471 339h14v14h-14zM1356 353h15v14h-15zM1371 353h14v14h-14zM1442 353h14v14h-14zM1356 367h15v15h-15zM1371 367h14v15h-14zM1743 367h14v15h-14zM1829 367h14v15h-14zM1285 382h14v14h-14zM1614 382h14v14h-14zM1285 396h14v14h-14zM1328 396h14v14h-14zM1313 410h15v15h-15zM1657 410h14v15h-14zM1686 410h14v15h-14zM1700 425h14v14h-14zM1270 439h15v14h-15zM1700 439h14v14h-14zM1471 453h14v15h-14zM1686 453h14v15h-14zM1485 468h14v14h-14zM1299 482h14v14h-14zM1399 496h15v15h-15zM1414 496h14v15h-14zM1414 511h14v14h-14zM1542 511h15v14h-15zM1456 539h15v15h-15zM1600 539h14v15h-14zM1485 554h14v14h-14zM1371 568h14v14h-14zM1399 568h15v14h-15zM1499 568h15v14h-15zM1514 568h14v14h-14zM1414 582h14v15h-14zM1686 582h14v15h-14zM1743 582h14v15h-14zM1428 597h14v14h-14zM1328 611h14v14h-14zM1786 611h14v14h-14zM1471 625h14v15h-14zM1514 625h14v15h-14zM1471 640h14v14h-14zM1514 640h14v14h-14zM1371 654h14v14h-14zM1728 654h15v14h-15zM1399 668h15v15h-15zM1428 668h14v15h-14zM1628 683h15v14h-15z"/>
<path fill="#328c32" d="M1485 167h14v14h-14zM1428 224h14v15h-14zM1270 382h15v14h-15z"/>
<path fill="#e48778" d="M1671 181h15v15h-15zM1628 196h15v14h-15zM1728 196h15v14h-15zM1414 210h14v14h-14zM1686 224h14v15h-14zM1399 239h15v14h-15zM1557 239h14v14h-14zM1657 239h14v14h-14zM1700 267h14v15h-14zM1585 282h15v14h-15zM1600 282h14v14h-14zM1399 310h15v15h-15zM1743 310h14v15h-14zM1328 339h14v14h-14zM1671 339h15v14h-15zM1614 353h14v14h-14zM1743 353h14v14h-14zM1614 439h14v14h-14zM1270 453h15v15h-15zM1356 453h15v15h-15zM1299 468h14v14h-14zM1743 468h14v14h-14zM1270 482h15v14h-15zM1628 668h15v15h-15z"/>
<path fill="#878c32" d="M1471 210h14v14h-14zM1442 224h14v15h-14zM1385 239h14v14h-14zM1671 239h15v14h-15zM1456 253h15v14h-15zM1428 282h14v14h-14zM1328 325h14v14h-14zM1657 325h14v14h-14zM1671 325h15v14h-15zM1385 339h14v14h-14zM1728 353h15v14h-15zM1614 367h14v15h-14zM1657 382h14v14h-14zM1399 410h15v15h-15zM1800 410h14v15h-14zM1800 425h14v14h-14zM1442 439h14v14h-14zM1456 439h15v14h-15zM1600 439h14v14h-14zM1714 439h14v14h-14zM1585 468h15v14h-15zM1757 468h14v14h-14zM1514 482h14v14h-14zM1743 482h14v14h-14zM1757 482h14v14h-14zM1814 496h15v15h-15zM1456 525h15v14h-15zM1485 539h14v15h-14zM1700 539h14v15h-14zM1356 554h15v14h-15zM1614 554h14v14h-14zM1771 554h15v14h-15zM1528 568h14v14h-14zM1528 582h14v15h-14zM1600 611h14v14h-14zM1371 640h14v14h-14zM1414 668h14v15h-14zM1471 697h14v14h-14z"/>
<path fill="#d0ecee" d="M1356 224h15v15h-15zM1456 224h15v15h-15zM1328 253h14v14h-14zM1399 267h15v15h-15zM1299 282h14v14h-14zM1456 282h15v14h-15zM1471 282h14v14h-14zM1571 282h14v14h-14zM1686 296h14v14h-14zM1700 296h14v14h-14zM1371 310h14v15h-14zM1499 325h15v14h-15zM1514 325h14v14h-14zM1614 325h14v14h-14zM1728 325h15v14h-15zM1428 339h14v14h-14zM1328 353h14v14h-14zM1557 353h14v14h-14zM1643 353h14v14h-14zM1471 367h14v15h-14zM1485 367h14v15h-14zM1557 367h14v15h-14zM1657 367h14v15h-14zM1456 382h15v14h-15zM1471 382h14v14h-14zM1542 382h15v14h-15zM1686 382h14v14h-14zM1700 382h14v14h-14zM1371 396h14v14h-14zM1456 396h15v14h-15zM1585 396h15v14h-15zM1600 396h14v14h-14zM1456 410h15v15h-15zM1499 410h15v15h-15zM1514 425h14v14h-14zM1585 425h15v14h-15zM1743 425h14v14h-14zM1528 439h14v14h-14zM1585 439h15v14h-15zM1528 453h14v15h-14zM1643 453h14v15h-14zM1456 468h15v14h-15zM1557 468h14v14h-14zM1571 468h14v14h-14zM1700 468h14v14h-14zM1456 482h15v14h-15zM1614 482h14v14h-14zM1485 496h14v15h-14zM1614 496h14v15h-14zM1485 511h14v14h-14zM1600 511h14v14h-14zM1757 511h14v14h-14zM1399 525h15v14h-15zM1499 525h15v14h-15zM1657 525h14v14h-14zM1542 539h15v15h-15zM1557 539h14v15h-14zM1657 539h14v15h-14zM1428 554h14v14h-14zM1542 554h15v14h-15zM1628 554h15v14h-15zM1428 568h14v14h-14zM1456 568h15v14h-15zM1585 568h15v14h-15zM1600 568h14v14h-14zM1499 597h15v14h-15zM1614 597h14v14h-14zM1671 597h15v14h-15zM1585 611h15v14h-15zM1542 625h15v15h-15zM1456 654h15v14h-15z"/>
<path fill="#6e8c2d" d="M1786 239h14v14h-14zM1471 253h14v14h-14z"/>
<path fill="#008046" d="M1356 253h15v14h-15zM1371 267h14v15h-14zM1342 296h14v14h-14zM1313 310h15v15h-15zM1542 339h15v14h-15zM1456 353h15v14h-15zM1499 382h15v14h-15zM1485 396h14v14h-14zM1499 396h15v14h-15zM1657 396h14v14h-14zM1557 410h14v15h-14zM1571 410h14v15h-14zM1557 439h14v14h-14zM1514 468h14v14h-14zM1600 468h14v14h-14zM1657 496h14v15h-14zM1557 511h14v14h-14zM1442 525h14v14h-14zM1399 582h15v15h-15zM1442 611h14v14h-14zM1356 640h15v14h-15z"/>
<path fill="#508a2d" d="M1428 267h14v15h-14zM1714 267h14v15h-14zM1499 296h15v14h-15zM1414 310h14v15h-14zM1585 367h15v15h-15zM1571 425h14v14h-14zM1843 453h14v15h-14zM1843 468h14v14h-14zM1657 482h14v14h-14zM1786 525h14v14h-14zM1800 525h14v14h-14zM1614 539h14v15h-14zM1499 554h15v14h-15zM1442 597h14v14h-14zM1385 654h14v14h-14zM1414 683h14v14h-14z"/>
<path fill="#fcfdfc" d="M1371 296h14v14h-14zM1414 339h14v14h-14zM1657 353h14v14h-14zM1542 396h15v14h-15zM1700 396h14v14h-14zM1514 410h14v15h-14zM1600 410h14v15h-14zM1614 410h14v15h-14zM1499 425h15v14h-15zM1557 425h14v14h-14zM1614 425h14v14h-14zM1499 439h15v14h-15zM1657 439h14v14h-14zM1499 453h15v15h-15zM1542 453h15v15h-15zM1657 453h14v15h-14zM1571 482h14v14h-14zM1700 482h14v14h-14zM1499 511h15v14h-15zM1700 568h14v14h-14z"/>
<path fill="#006e5a" d="M1313 325h15v14h-15zM1600 367h14v15h-14zM1571 511h14v14h-14z"/>
<path fill="#00505f" d="M1514 382h14v14h-14zM1643 410h14v15h-14zM1471 439h14v14h-14zM1600 453h14v15h-14zM1614 453h14v15h-14z"/>
<path fill="#0a0312" d="M1542 425h15v14h-15z"/>
<path fill="#002d55" d="M1499 482h15v14h-15z"/>
</g></g>
   <g id="matplotlib.axis_3">
    <g id="xtick_6">
     <g id="line2d_16">
      <g>
       <use href="#m1504cfccaf" x="542.81949" y="317.1" style="stroke: #000000; stroke-width: 0.8"/>
      </g>
     </g>
     <g id="text_18">
      <text style="font-size: 12px; font-family: 'DejaVu Sans', 'Liberation Sans', sans-serif; text-anchor: middle" x="542.81949" y="333.218125" transform="rotate(-0 542.81949 333.218125)">40</text>
     </g>
    </g>
    <g id="xtick_7">
     <g id="line2d_17">
      <g>
       <use href="#m1504cfccaf" x="606.520459" y="317.1" style="stroke: #000000; stroke-width: 0.8"/>
      </g>
     </g>
     <g id="text_19">
      <text style="font-size: 12px; font-family: 'DejaVu Sans', 'Liberation Sans', sans-serif; text-anchor: middle" x="606.520459" y="333.218125" transform="rotate(-0 606.520459 333.218125)">20</text>
     </g>
    </g>
    <g id="xtick_8">
     <g id="line2d_18">
      <g>
       <use href="#m1504cfccaf" x="670.221429" y="317.1" style="stroke: #000000; stroke-width: 0.8"/>
      </g>
     </g>
     <g id="text_20">
      <text style="font-size: 12px; font-family: 'DejaVu Sans', 'Liberation Sans', sans-serif; text-anchor: middle" x="670.221429" y="333.218125" transform="rotate(-0 670.221429 333.218125)">0</text>
     </g>
    </g>
    <g id="xtick_9">
     <g id="line2d_19">
      <g>
       <use href="#m1504cfccaf" x="733.922398" y="317.1" style="stroke: #000000; stroke-width: 0.8"/>
      </g>
     </g>
     <g id="text_21">
      <text style="font-size: 12px; font-family: 'DejaVu Sans', 'Liberation Sans', sans-serif; text-anchor: middle" x="733.922398" y="333.218125" transform="rotate(-0 733.922398 333.218125)">−20</text>
     </g>
    </g>
    <g id="xtick_10">
     <g id="line2d_20">
      <g>
       <use href="#m1504cfccaf" x="797.623367" y="317.1" style="stroke: #000000; stroke-width: 0.8"/>
      </g>
     </g>
     <g id="text_22">
      <text style="font-size: 12px; font-family: 'DejaVu Sans', 'Liberation Sans', sans-serif; text-anchor: middle" x="797.623367" y="333.218125" transform="rotate(-0 797.623367 333.218125)">−40</text>
     </g>
    </g>
    <g id="text_23">
     
     <g transform="translate(633.331429 350.351562)">
      <text>
       <tspan x="0" y="-0.359375" style="font-size: 14px; font-family: 'DejaVu Sans', 'Liberation Sans', sans-serif">Δ</tspan>
       <tspan x="9.577148" y="-0.359375" style="font-size: 14px; font-family: 'DejaVu Sans', 'Liberation Sans', sans-serif">R</tspan>
       <tspan x="19.304688" y="-0.359375" style="font-size: 14px; font-family: 'DejaVu Sans', 'Liberation Sans', sans-serif">A</tspan>
       <tspan x="28.881836" y="-0.359375" style="font-size: 14px; font-family: 'DejaVu Sans', 'Liberation Sans', sans-serif"> </tspan>
       <tspan x="33.332031" y="-0.359375" style="font-size: 14px; font-family: 'DejaVu Sans', 'Liberation Sans', sans-serif">[</tspan>
       <tspan x="38.793945" y="-0.359375" style="font-size: 14px; font-family: 'DejaVu Sans', 'Liberation Sans', sans-serif">m</tspan>
       <tspan x="52.431641" y="-0.359375" style="font-size: 14px; font-family: 'DejaVu Sans', 'Liberation Sans', sans-serif">a</tspan>
       <tspan x="61.010742" y="-0.359375" style="font-size: 14px; font-family: 'DejaVu Sans', 'Liberation Sans', sans-serif">s</tspan>
       <tspan x="68.304688" y="-0.359375" style="font-size: 14px; font-family: 'DejaVu Sans', 'Liberation Sans', sans-serif">]</tspan>
      </text>
     </g>
    </g>
   </g>
   <g id="matplotlib.axis_4">
    <g id="ytick_10">
     <g id="line2d_21">
      <g>
       <use href="#m5d545ce8f8" x="538.328571" y="312.606163" style="stroke: #000000; stroke-width: 0.8"/>
      </g>
     </g>
     <g id="text_24">
      <text style="font-size: 12px; font-family: 'DejaVu Sans', 'Liberation Sans', sans-serif; text-anchor: end" x="531.328571" y="317.165226" transform="rotate(-0 531.328571 317.165226)">−40</text>
     </g>
    </g>
    <g id="ytick_11">
     <g id="line2d_22">
      <g>
       <use href="#m5d545ce8f8" x="538.328571" y="280.734979" style="stroke: #000000; stroke-width: 0.8"/>
      </g>
     </g>
     <g id="text_25">
      <text style="font-size: 12px; font-family: 'DejaVu Sans', 'Liberation Sans', sans-serif; text-anchor: end" x="531.328571" y="285.294042" transform="rotate(-0 531.328571 285.294042)">−30</text>
     </g>
    </g>
    <g id="ytick_12">
     <g id="line2d_23">
      <g>
       <use href="#m5d545ce8f8" x="538.328571" y="248.863796" style="stroke: #000000; stroke-width: 0.8"/>
      </g>
     </g>
     <g id="text_26">
      <text style="font-size: 12px; font-family: 'DejaVu Sans', 'Liberation Sans', sans-serif; text-anchor: end" x="531.328571" y="253.422858" transform="rotate(-0 531.328571 253.422858)">−20</text>
     </g>
    </g>
    <g id="ytick_13">
     <g id="line2d_24">
      <g>
       <use href="#m5d545ce8f8" x="538.328571" y="216.992612" style="stroke: #000000; stroke-width: 0.8"/>
      </g>
     </g>
     <g id="text_27">
      <text style="font-size: 12px; font-family: 'DejaVu Sans', 'Liberation Sans', sans-serif; text-anchor: end" x="531.328571" y="221.551675" transform="rotate(-0 531.328571 221.551675)">−10</text>
     </g>
    </g>
    <g id="ytick_14">
     <g id="line2d_25">
      <g>
       <use href="#m5d545ce8f8" x="538.328571" y="185.121429" style="stroke: #000000; stroke-width: 0.8"/>
      </g>
     </g>
     <g id="text_28">
      <text style="font-size: 12px; font-family: 'DejaVu Sans', 'Liberation Sans', sans-serif; text-anchor: end" x="531.328571" y="189.680491" transform="rotate(-0 531.328571 189.680491)">0</text>
     </g>
    </g>
    <g id="ytick_15">
     <g id="line2d_26">
      <g>
       <use href="#m5d545ce8f8" x="538.328571" y="153.250245" style="stroke: #000000; stroke-width: 0.8"/>
      </g>
     </g>
     <g id="text_29">
      <text style="font-size: 12px; font-family: 'DejaVu Sans', 'Liberation Sans', sans-serif; text-anchor: end" x="531.328571" y="157.809307" transform="rotate(-0 531.328571 157.809307)">10</text>
     </g>
    </g>
    <g id="ytick_16">
     <g id="line2d_27">
      <g>
       <use href="#m5d545ce8f8" x="538.328571" y="121.379061" style="stroke: #000000; stroke-width: 0.8"/>
      </g>
     </g>
     <g id="text_30">
      <text style="font-size: 12px; font-family: 'DejaVu Sans', 'Liberation Sans', sans-serif; text-anchor: end" x="531.328571" y="125.938124" transform="rotate(-0 531.328571 125.938124)">20</text>
     </g>
    </g>
    <g id="ytick_17">
     <g id="line2d_28">
      <g>
       <use href="#m5d545ce8f8" x="538.328571" y="89.507878" style="stroke: #000000; stroke-width: 0.8"/>
      </g>
     </g>
     <g id="text_31">
      <text style="font-size: 12px; font-family: 'DejaVu Sans', 'Liberation Sans', sans-serif; text-anchor: end" x="531.328571" y="94.06694" transform="rotate(-0 531.328571 94.06694)">30</text>
     </g>
    </g>
    <g id="ytick_18">
     <g id="line2d_29">
      <g>
       <use href="#m5d545ce8f8" x="538.328571" y="57.636694" style="stroke: #000000; stroke-width: 0.8"/>
      </g>
     </g>
     <g id="text_32">
      <text style="font-size: 12px; font-family: 'DejaVu Sans', 'Liberation Sans', sans-serif; text-anchor: end" x="531.328571" y="62.195757" transform="rotate(-0 531.328571 62.195757)">40</text>
     </g>
    </g>
    <g id="text_33">
     
     <g transform="translate(499.091384 227.121429) rotate(-90)">
      <text>
       <tspan x="0" y="-0.359375" style="font-size: 14px; font-family: 'DejaVu Sans', 'Liberation Sans', sans-serif">Δ</tspan>
       <tspan x="9.577148" y="-0.359375" style="font-size: 14px; font-family: 'DejaVu Sans', 'Liberation Sans', sans-serif">D</tspan>
       <tspan x="20.357422" y="-0.359375" style="font-size: 14px; font-family: 'DejaVu Sans', 'Liberation Sans', sans-serif">E</tspan>
       <tspan x="29.203125" y="-0.359375" style="font-size: 14px; font-family: 'DejaVu Sans', 'Liberation Sans', sans-serif">C</tspan>
       <tspan x="38.978516" y="-0.359375" style="font-size: 14px; font-family: 'DejaVu Sans', 'Liberation Sans', sans-serif"> </tspan>
       <tspan x="43.428711" y="-0.359375" style="font-size: 14px; font-family: 'DejaVu Sans', 'Liberation Sans', sans-serif">[</tspan>
       <tspan x="48.890625" y="-0.359375" style="font-size: 14px; font-family: 'DejaVu Sans', 'Liberation Sans', sans-serif">m</tspan>
       <tspan x="62.52832" y="-0.359375" style="font-size: 14px; font-family: 'DejaVu Sans', 'Liberation Sans', sans-serif">a</tspan>
       <tspan x="71.107422" y="-0.359375" style="font-size: 14px; font-family: 'DejaVu Sans', 'Liberation Sans', sans-serif">s</tspan>
       <tspan x="78.401367" y="-0.359375" style="font-size: 14px; font-family: 'DejaVu Sans', 'Liberation Sans', sans-serif">]</tspan>
      </text>
     </g>
    </g>
   </g>
   <g id="patch_8">
    <path d="M 538.328571 317.1 
L 538.328571 53.142857 
" style="fill: none; stroke: #000000; stroke-width: 0.8; stroke-linejoin: miter; stroke-linecap: square"/>
   </g>
   <g id="patch_9">
    <path d="M 802.114286 317.1 
L 802.114286 53.142857 
" style="fill: none; stroke: #000000; stroke-width: 0.8; stroke-linejoin: miter; stroke-linecap: square"/>
   </g>
   <g id="patch_10">
    <path d="M 538.328571 317.1 
L 802.114286 317.1 
" style="fill: none; stroke: #000000; stroke-width: 0.8; stroke-linejoin: miter; stroke-linecap: square"/>
   </g>
   <g id="patch_11">
    <path d="M 538.328571 53.142857 
L 802.114286 53.142857 
" style="fill: none; stroke: #000000; stroke-width: 0.8; stroke-linejoin: miter; stroke-linecap: square"/>
   </g>
   <g id="line2d_30">
    <g clip-path="url(#p9ec6ddfb3c)">
     <use href="#m68e630343b" x="670.221429" y="185.121429" style="stroke: #000000; stroke-linejoin: bevel"/>
    </g>
   </g>
   <g id="text_34">
    <text style="font-size: 14.4px; font-family: 'DejaVu Sans', 'Liberation Sans', sans-serif; text-anchor: middle" x="670.221429" y="47.142857" transform="rotate(-0 670.221429 47.142857)">Method Injection</text>
   </g>
  </g>
  <g id="axes_3">
   <g id="patch_12">
    <path d="M 375.385714 317.1 
L 388.714286 317.1 
L 388.714286 53.142857 
L 375.385714 53.142857 
z
" style="fill: #ffffff"/>
   </g>
   <g id="CBAR_cb1"><defs><linearGradient id="gcb1" x1="0" y1="0" x2="0" y2="1"><stop offset="0.0000" stop-color="#ffffff"/><stop offset="0.0312" stop-color="#f2fbf6"/><stop offset="0.0625" stop-color="#e3f6f0"/><stop offset="0.0938" stop-color="#d6f0ef"/><stop offset="0.1250" stop-color="#cbe8f0"/><stop offset="0.1562" stop-color="#c4ddf2"/><stop offset="0.1875" stop-color="#c1d1f3"/><stop offset="0.2188" stop-color="#c2c3f2"/><stop offset="0.2500" stop-color="#c6b4ee"/><stop offset="0.2812" stop-color="#cca6e4"/><stop offset="0.3125" stop-color="#d198d4"/><stop offset="0.3438" stop-color="#d48dc1"/><stop offset="0.3750" stop-color="#d484a9"/><stop offset="0.4062" stop-color="#cf7e8f"/><stop offset="0.4375" stop-color="#c57a76"/><stop offset="0.4688" stop-color="#b5795e"/><stop offset="0.5000" stop-color="#a1794a"/><stop offset="0.5312" stop-color="#8a7a3b"/><stop offset="0.5625" stop-color="#727b32"/><stop offset="0.5938" stop-color="#5a7a2f"/><stop offset="0.6250" stop-color="#447731"/><stop offset="0.6562" stop-color="#317236"/><stop offset="0.6875" stop-color="#236a3e"/><stop offset="0.7188" stop-color="#1a6046"/><stop offset="0.7500" stop-color="#16534c"/><stop offset="0.7812" stop-color="#15464e"/><stop offset="0.8125" stop-color="#17374d"/><stop offset="0.8438" stop-color="#192a46"/><stop offset="0.8750" stop-color="#1b1e3b"/><stop offset="0.9062" stop-color="#19132d"/><stop offset="0.9375" stop-color="#150b1d"/><stop offset="0.9688" stop-color="#0c050e"/><stop offset="1.0000" stop-color="#000000"/></linearGradient></defs><rect x="375.3857" y="53.1429" width="13.3286" height="263.9571" fill="url(#gcb1)"/></g>
   <g id="matplotlib.axis_5"/>
   <g id="matplotlib.axis_6">
    <g id="ytick_19">
     <g id="line2d_31">
      <defs>
       <path id="m33c4ce201d" d="M 0 0 
L 3.5 0 
" style="stroke: #000000; stroke-width: 0.8"/>
      </defs>
      <g>
       <use href="#m33c4ce201d" x="388.714286" y="307.617669" style="stroke: #000000; stroke-width: 0.8"/>
      </g>
     </g>
     <g id="text_35">
      <text style="font-size: 12px; font-family: 'DejaVu Sans', 'Liberation Sans', sans-serif; text-anchor: start" x="395.714286" y="312.176731" transform="rotate(-0 395.714286 312.176731)">5.2</text>
     </g>
    </g>
    <g id="ytick_20">
     <g id="line2d_32">
      <g>
       <use href="#m33c4ce201d" x="388.714286" y="268.914275" style="stroke: #000000; stroke-width: 0.8"/>
      </g>
     </g>
     <g id="text_36">
      <text style="font-size: 12px; font-family: 'DejaVu Sans', 'Liberation Sans', sans-serif; text-anchor: start" x="395.714286" y="273.473338" transform="rotate(-0 395.714286 273.473338)">5.4</text>
     </g>
    </g>
    <g id="ytick_21">
     <g id="line2d_33">
      <g>
       <use href="#m33c4ce201d" x="388.714286" y="230.210882" style="stroke: #000000; stroke-width: 0.8"/>
      </g>
     </g>
     <g id="text_37">
      <text style="font-size: 12px; font-family: 'DejaVu Sans', 'Liberation Sans', sans-serif; text-anchor: start" x="395.714286" y="234.769944" transform="rotate(-0 395.714286 234.769944)">5.6</text>
     </g>
    </g>
    <g id="ytick_22">
     <g id="line2d_34">
      <g>
       <use href="#m33c4ce201d" x="388.714286" y="191.507488" style="stroke: #000000; stroke-width: 0.8"/>
      </g>
     </g>
     <g id="text_38">
      <text style="font-size: 12px; font-family: 'DejaVu Sans', 'Liberation Sans', sans-serif; text-anchor: start" x="395.714286" y="196.066551" transform="rotate(-0 395.714286 196.066551)">5.8</text>
     </g>
    </g>
    <g id="ytick_23">
     <g id="line2d_35">
      <g>
       <use href="#m33c4ce201d" x="388.714286" y="152.804095" style="stroke: #000000; stroke-width: 0.8"/>
      </g>
     </g>
     <g id="text_39">
      <text style="font-size: 12px; font-family: 'DejaVu Sans', 'Liberation Sans', sans-serif; text-anchor: start" x="395.714286" y="157.363158" transform="rotate(-0 395.714286 157.363158)">6.0</text>
     </g>
    </g>
    <g id="ytick_24">
     <g id="line2d_36">
      <g>
       <use href="#m33c4ce201d" x="388.714286" y="114.100702" style="stroke: #000000; stroke-width: 0.8"/>
      </g>
     </g>
     <g id="text_40">
      <text style="font-size: 12px; font-family: 'DejaVu Sans', 'Liberation Sans', sans-serif; text-anchor: start" x="395.714286" y="118.659764" transform="rotate(-0 395.714286 118.659764)">6.2</text>
     </g>
    </g>
    <g id="ytick_25">
     <g id="line2d_37">
      <g>
       <use href="#m33c4ce201d" x="388.714286" y="75.397308" style="stroke: #000000; stroke-width: 0.8"/>
      </g>
     </g>
     <g id="text_41">
      <text style="font-size: 12px; font-family: 'DejaVu Sans', 'Liberation Sans', sans-serif; text-anchor: start" x="395.714286" y="79.956371" transform="rotate(-0 395.714286 79.956371)">6.4</text>
     </g>
    </g>
    <g id="text_42">
     <text style="font-size: 14px; font-family: 'DejaVu Sans', 'Liberation Sans', sans-serif; text-anchor: middle" x="424.160223" y="185.121429" transform="rotate(-270 424.160223 185.121429)">Contrast [mag]</text>
    </g>
   </g>
   <g id="patch_13">
    <path d="M 375.385714 317.1 
L 375.385714 53.142857 
" style="fill: none; stroke: #000000; stroke-width: 0.8; stroke-linejoin: miter; stroke-linecap: square"/>
   </g>
   <g id="patch_14">
    <path d="M 388.714286 317.1 
L 388.714286 53.142857 
" style="fill: none; stroke: #000000; stroke-width: 0.8; stroke-linejoin: miter; stroke-linecap: square"/>
   </g>
   <g id="patch_15">
    <path d="M 375.385714 317.1 
L 388.714286 317.1 
" style="fill: none; stroke: #000000; stroke-width: 0.8; stroke-linejoin: miter; stroke-linecap: square"/>
   </g>
   <g id="patch_16">
    <path d="M 375.385714 53.142857 
L 388.714286 53.142857 
" style="fill: none; stroke: #000000; stroke-width: 0.8; stroke-linejoin: miter; stroke-linecap: square"/>
   </g>
  </g>
  <g id="axes_4">
   <g id="patch_17">
    <path d="M 821.828571 317.1 
L 834.857143 317.1 
L 834.857143 53.142857 
L 821.828571 53.142857 
z
" style="fill: #ffffff"/>
   </g>
   <g id="CBAR_cb2"><defs><linearGradient id="gcb2" x1="0" y1="0" x2="0" y2="1"><stop offset="0.0000" stop-color="#ffffff"/><stop offset="0.0312" stop-color="#f2fbf6"/><stop offset="0.0625" stop-color="#e3f6f0"/><stop offset="0.0938" stop-color="#d6f0ef"/><stop offset="0.1250" stop-color="#cbe8f0"/><stop offset="0.1562" stop-color="#c4ddf2"/><stop offset="0.1875" stop-color="#c1d1f3"/><stop offset="0.2188" stop-color="#c2c3f2"/><stop offset="0.2500" stop-color="#c6b4ee"/><stop offset="0.2812" stop-color="#cca6e4"/><stop offset="0.3125" stop-color="#d198d4"/><stop offset="0.3438" stop-color="#d48dc1"/><stop offset="0.3750" stop-color="#d484a9"/><stop offset="0.4062" stop-color="#cf7e8f"/><stop offset="0.4375" stop-color="#c57a76"/><stop offset="0.4688" stop-color="#b5795e"/><stop offset="0.5000" stop-color="#a1794a"/><stop offset="0.5312" stop-color="#8a7a3b"/><stop offset="0.5625" stop-color="#727b32"/><stop offset="0.5938" stop-color="#5a7a2f"/><stop offset="0.6250" stop-color="#447731"/><stop offset="0.6562" stop-color="#317236"/><stop offset="0.6875" stop-color="#236a3e"/><stop offset="0.7188" stop-color="#1a6046"/><stop offset="0.7500" stop-color="#16534c"/><stop offset="0.7812" stop-color="#15464e"/><stop offset="0.8125" stop-color="#17374d"/><stop offset="0.8438" stop-color="#192a46"/><stop offset="0.8750" stop-color="#1b1e3b"/><stop offset="0.9062" stop-color="#19132d"/><stop offset="0.9375" stop-color="#150b1d"/><stop offset="0.9688" stop-color="#0c050e"/><stop offset="1.0000" stop-color="#000000"/></linearGradient></defs><rect x="821.8286" y="53.1429" width="13.0286" height="263.9571" fill="url(#gcb2)"/></g>
   <g id="matplotlib.axis_7"/>
   <g id="matplotlib.axis_8">
    <g id="ytick_26">
     <g id="line2d_38">
      <g>
       <use href="#m33c4ce201d" x="834.857143" y="317.1" style="stroke: #000000; stroke-width: 0.8"/>
      </g>
     </g>
     <g id="text_43">
      <text style="font-size: 12px; font-family: 'DejaVu Sans', 'Liberation Sans', sans-serif; text-anchor: start" x="841.857143" y="321.659063" transform="rotate(-0 841.857143 321.659063)">5.0</text>
     </g>
    </g>
    <g id="ytick_27">
     <g id="line2d_39">
      <g>
       <use href="#m33c4ce201d" x="834.857143" y="285.431477" style="stroke: #000000; stroke-width: 0.8"/>
      </g>
     </g>
     <g id="text_44">
      <text style="font-size: 12px; font-family: 'DejaVu Sans', 'Liberation Sans', sans-serif; text-anchor: start" x="841.857143" y="289.990539" transform="rotate(-0 841.857143 289.990539)">5.2</text>
     </g>
    </g>
    <g id="ytick_28">
     <g id="line2d_40">
      <g>
       <use href="#m33c4ce201d" x="834.857143" y="253.762953" style="stroke: #000000; stroke-width: 0.8"/>
      </g>
     </g>
     <g id="text_45">
      <text style="font-size: 12px; font-family: 'DejaVu Sans', 'Liberation Sans', sans-serif; text-anchor: start" x="841.857143" y="258.322016" transform="rotate(-0 841.857143 258.322016)">5.4</text>
     </g>
    </g>
    <g id="ytick_29">
     <g id="line2d_41">
      <g>
       <use href="#m33c4ce201d" x="834.857143" y="222.09443" style="stroke: #000000; stroke-width: 0.8"/>
      </g>
     </g>
     <g id="text_46">
      <text style="font-size: 12px; font-family: 'DejaVu Sans', 'Liberation Sans', sans-serif; text-anchor: start" x="841.857143" y="226.653492" transform="rotate(-0 841.857143 226.653492)">5.6</text>
     </g>
    </g>
    <g id="ytick_30">
     <g id="line2d_42">
      <g>
       <use href="#m33c4ce201d" x="834.857143" y="190.425906" style="stroke: #000000; stroke-width: 0.8"/>
      </g>
     </g>
     <g id="text_47">
      <text style="font-size: 12px; font-family: 'DejaVu Sans', 'Liberation Sans', sans-serif; text-anchor: start" x="841.857143" y="194.984969" transform="rotate(-0 841.857143 194.984969)">5.8</text>
     </g>
    </g>
    <g id="ytick_31">
     <g id="line2d_43">
      <g>
       <use href="#m33c4ce201d" x="834.857143" y="158.757383" style="stroke: #000000; stroke-width: 0.8"/>
      </g>
     </g>
     <g id="text_48">
      <text style="font-size: 12px; font-family: 'DejaVu Sans', 'Liberation Sans', sans-serif; text-anchor: start" x="841.857143" y="163.316445" transform="rotate(-0 841.857143 163.316445)">6.0</text>
     </g>
    </g>
    <g id="ytick_32">
     <g id="line2d_44">
      <g>
       <use href="#m33c4ce201d" x="834.857143" y="127.088859" style="stroke: #000000; stroke-width: 0.8"/>
      </g>
     </g>
     <g id="text_49">
      <text style="font-size: 12px; font-family: 'DejaVu Sans', 'Liberation Sans', sans-serif; text-anchor: start" x="841.857143" y="131.647922" transform="rotate(-0 841.857143 131.647922)">6.2</text>
     </g>
    </g>
    <g id="ytick_33">
     <g id="line2d_45">
      <g>
       <use href="#m33c4ce201d" x="834.857143" y="95.420336" style="stroke: #000000; stroke-width: 0.8"/>
      </g>
     </g>
     <g id="text_50">
      <text style="font-size: 12px; font-family: 'DejaVu Sans', 'Liberation Sans', sans-serif; text-anchor: start" x="841.857143" y="99.979398" transform="rotate(-0 841.857143 99.979398)">6.4</text>
     </g>
    </g>
    <g id="ytick_34">
     <g id="line2d_46">
      <g>
       <use href="#m33c4ce201d" x="834.857143" y="63.751812" style="stroke: #000000; stroke-width: 0.8"/>
      </g>
     </g>
     <g id="text_51">
      <text style="font-size: 12px; font-family: 'DejaVu Sans', 'Liberation Sans', sans-serif; text-anchor: start" x="841.857143" y="68.310875" transform="rotate(-0 841.857143 68.310875)">6.6</text>
     </g>
    </g>
    <g id="text_52">
     <text style="font-size: 14px; font-family: 'DejaVu Sans', 'Liberation Sans', sans-serif; text-anchor: middle" x="870.30308" y="185.121429" transform="rotate(-270 870.30308 185.121429)">Contrast [mag]</text>
    </g>
   </g>
   <g id="patch_18">
    <path d="M 821.828571 317.1 
L 821.828571 53.142857 
" style="fill: none; stroke: #000000; stroke-width: 0.8; stroke-linejoin: miter; stroke-linecap: square"/>
   </g>
   <g id="patch_19">
    <path d="M 834.857143 317.1 
L 834.857143 53.142857 
" style="fill: none; stroke: #000000; stroke-width: 0.8; stroke-linejoin: miter; stroke-linecap: square"/>
   </g>
   <g id="patch_20">
    <path d="M 821.828571 317.1 
L 834.857143 317.1 
" style="fill: none; stroke: #000000; stroke-width: 0.8; stroke-linejoin: miter; stroke-linecap: square"/>
   </g>
   <g id="patch_21">
    <path d="M 821.828571 53.142857 
L 834.857143 53.142857 
" style="fill: none; stroke: #000000; stroke-width: 0.8; stroke-linejoin: miter; stroke-linecap: square"/>
   </g>
  </g>
  <g id="axes_5">
   <g id="patch_22">
    <path d="M 43.307143 630.857143 
L 880.307143 630.857143 
L 880.307143 366.857143 
L 43.307143 366.857143 
z
" style="fill: #ffffff"/>
   </g>
   <g id="matplotlib.axis_9">
    <g id="xtick_11">
     <g id="line2d_47">
      <path d="M 43.307143 630.857143 
L 43.307143 366.857143 
" clip-path="url(#pe58305e719)" style="fill: none; stroke: #b0b0b0; stroke-width: 0.8; stroke-linecap: square"/>
     </g>
     <g id="line2d_48">
      <g>
       <use href="#m1504cfccaf" x="43.307143" y="630.857143" style="stroke: #000000; stroke-width: 0.8"/>
      </g>
     </g>
     <g id="text_53">
      <text style="font-size: 12px; font-family: 'DejaVu Sans', 'Liberation Sans', sans-serif; text-anchor: middle" x="43.307143" y="646.975268" transform="rotate(-0 43.307143 646.975268)">0</text>
     </g>
    </g>
    <g id="xtick_12">
     <g id="line2d_49">
      <path d="M 182.807143 630.857143 
L 182.807143 366.857143 
" clip-path="url(#pe58305e719)" style="fill: none; stroke: #b0b0b0; stroke-width: 0.8; stroke-linecap: square"/>
     </g>
     <g id="line2d_50">
      <g>
       <use href="#m1504cfccaf" x="182.807143" y="630.857143" style="stroke: #000000; stroke-width: 0.8"/>
      </g>
     </g>
     <g id="text_54">
      <text style="font-size: 12px; font-family: 'DejaVu Sans', 'Liberation Sans', sans-serif; text-anchor: middle" x="182.807143" y="646.975268" transform="rotate(-0 182.807143 646.975268)">10</text>
     </g>
    </g>
    <g id="xtick_13">
     <g id="line2d_51">
      <path d="M 322.307143 630.857143 
L 322.307143 366.857143 
" clip-path="url(#pe58305e719)" style="fill: none; stroke: #b0b0b0; stroke-width: 0.8; stroke-linecap: square"/>
     </g>
     <g id="line2d_52">
      <g>
       <use href="#m1504cfccaf" x="322.307143" y="630.857143" style="stroke: #000000; stroke-width: 0.8"/>
      </g>
     </g>
     <g id="text_55">
      <text style="font-size: 12px; font-family: 'DejaVu Sans', 'Liberation Sans', sans-serif; text-anchor: middle" x="322.307143" y="646.975268" transform="rotate(-0 322.307143 646.975268)">20</text>
     </g>
    </g>
    <g id="xtick_14">
     <g id="line2d_53">
      <path d="M 461.807143 630.857143 
L 461.807143 366.857143 
" clip-path="url(#pe58305e719)" style="fill: none; stroke: #b0b0b0; stroke-width: 0.8; stroke-linecap: square"/>
     </g>
     <g id="line2d_54">
      <g>
       <use href="#m1504cfccaf" x="461.807143" y="630.857143" style="stroke: #000000; stroke-width: 0.8"/>
      </g>
     </g>
     <g id="text_56">
      <text style="font-size: 12px; font-family: 'DejaVu Sans', 'Liberation Sans', sans-serif; text-anchor: middle" x="461.807143" y="646.975268" transform="rotate(-0 461.807143 646.975268)">30</text>
     </g>
    </g>
    <g id="xtick_15">
     <g id="line2d_55">
      <path d="M 601.307143 630.857143 
L 601.307143 366.857143 
" clip-path="url(#pe58305e719)" style="fill: none; stroke: #b0b0b0; stroke-width: 0.8; stroke-linecap: square"/>
     </g>
     <g id="line2d_56">
      <g>
       <use href="#m1504cfccaf" x="601.307143" y="630.857143" style="stroke: #000000; stroke-width: 0.8"/>
      </g>
     </g>
     <g id="text_57">
      <text style="font-size: 12px; font-family: 'DejaVu Sans', 'Liberation Sans', sans-serif; text-anchor: middle" x="601.307143" y="646.975268" transform="rotate(-0 601.307143 646.975268)">40</text>
     </g>
    </g>
    <g id="xtick_16">
     <g id="line2d_57">
      <path d="M 740.807143 630.857143 
L 740.807143 366.857143 
" clip-path="url(#pe58305e719)" style="fill: none; stroke: #b0b0b0; stroke-width: 0.8; stroke-linecap: square"/>
     </g>
     <g id="line2d_58">
      <g>
       <use href="#m1504cfccaf" x="740.807143" y="630.857143" style="stroke: #000000; stroke-width: 0.8"/>
      </g>
     </g>
     <g id="text_58">
      <text style="font-size: 12px; font-family: 'DejaVu Sans', 'Liberation Sans', sans-serif; text-anchor: middle" x="740.807143" y="646.975268" transform="rotate(-0 740.807143 646.975268)">50</text>
     </g>
    </g>
    <g id="xtick_17">
     <g id="line2d_59">
      <path d="M 880.307143 630.857143 
L 880.307143 366.857143 
" clip-path="url(#pe58305e719)" style="fill: none; stroke: #b0b0b0; stroke-width: 0.8; stroke-linecap: square"/>
     </g>
     <g id="line2d_60">
      <g>
       <use href="#m1504cfccaf" x="880.307143" y="630.857143" style="stroke: #000000; stroke-width: 0.8"/>
      </g>
     </g>
     <g id="text_59">
      <text style="font-size: 12px; font-family: 'DejaVu Sans', 'Liberation Sans', sans-serif; text-anchor: middle" x="880.307143" y="646.975268" transform="rotate(-0 880.307143 646.975268)">60</text>
     </g>
    </g>
    <g id="text_60">
     <text style="font-size: 14px; font-family: 'DejaVu Sans', 'Liberation Sans', sans-serif; text-anchor: middle" x="461.807143" y="664.108705" transform="rotate(-0 461.807143 664.108705)">Separation [mas]</text>
    </g>
   </g>
   <g id="matplotlib.axis_10">
    <g id="ytick_35">
     <g id="line2d_61">
      <path d="M 43.307143 371.42705 
L 880.307143 371.42705 
" clip-path="url(#pe58305e719)" style="fill: none; stroke: #b0b0b0; stroke-width: 0.8; stroke-linecap: square"/>
     </g>
     <g id="line2d_62">
      <g>
       <use href="#m5d545ce8f8" x="43.307143" y="371.42705" style="stroke: #000000; stroke-width: 0.8"/>
      </g>
     </g>
     <g id="text_61">
      <text style="font-size: 12px; font-family: 'DejaVu Sans', 'Liberation Sans', sans-serif; text-anchor: end" x="36.307143" y="375.986112" transform="rotate(-0 36.307143 375.986112)">5.6</text>
     </g>
    </g>
    <g id="ytick_36">
     <g id="line2d_63">
      <path d="M 43.307143 406.580179 
L 880.307143 406.580179 
" clip-path="url(#pe58305e719)" style="fill: none; stroke: #b0b0b0; stroke-width: 0.8; stroke-linecap: square"/>
     </g>
     <g id="line2d_64">
      <g>
       <use href="#m5d545ce8f8" x="43.307143" y="406.580179" style="stroke: #000000; stroke-width: 0.8"/>
      </g>
     </g>
     <g id="text_62">
      <text style="font-size: 12px; font-family: 'DejaVu Sans', 'Liberation Sans', sans-serif; text-anchor: end" x="36.307143" y="411.139241" transform="rotate(-0 36.307143 411.139241)">5.7</text>
     </g>
    </g>
    <g id="ytick_37">
     <g id="line2d_65">
      <path d="M 43.307143 441.733308 
L 880.307143 441.733308 
" clip-path="url(#pe58305e719)" style="fill: none; stroke: #b0b0b0; stroke-width: 0.8; stroke-linecap: square"/>
     </g>
     <g id="line2d_66">
      <g>
       <use href="#m5d545ce8f8" x="43.307143" y="441.733308" style="stroke: #000000; stroke-width: 0.8"/>
      </g>
     </g>
     <g id="text_63">
      <text style="font-size: 12px; font-family: 'DejaVu Sans', 'Liberation Sans', sans-serif; text-anchor: end" x="36.307143" y="446.29237" transform="rotate(-0 36.307143 446.29237)">5.8</text>
     </g>
    </g>
    <g id="ytick_38">
     <g id="line2d_67">
      <path d="M 43.307143 476.886437 
L 880.307143 476.886437 
" clip-path="url(#pe58305e719)" style="fill: none; stroke: #b0b0b0; stroke-width: 0.8; stroke-linecap: square"/>
     </g>
     <g id="line2d_68">
      <g>
       <use href="#m5d545ce8f8" x="43.307143" y="476.886437" style="stroke: #000000; stroke-width: 0.8"/>
      </g>
     </g>
     <g id="text_64">
      <text style="font-size: 12px; font-family: 'DejaVu Sans', 'Liberation Sans', sans-serif; text-anchor: end" x="36.307143" y="481.4455" transform="rotate(-0 36.307143 481.4455)">5.9</text>
     </g>
    </g>
    <g id="ytick_39">
     <g id="line2d_69">
      <path d="M 43.307143 512.039566 
L 880.307143 512.039566 
" clip-path="url(#pe58305e719)" style="fill: none; stroke: #b0b0b0; stroke-width: 0.8; stroke-linecap: square"/>
     </g>
     <g id="line2d_70">
      <g>
       <use href="#m5d545ce8f8" x="43.307143" y="512.039566" style="stroke: #000000; stroke-width: 0.8"/>
      </g>
     </g>
     <g id="text_65">
      <text style="font-size: 12px; font-family: 'DejaVu Sans', 'Liberation Sans', sans-serif; text-anchor: end" x="36.307143" y="516.598629" transform="rotate(-0 36.307143 516.598629)">6.0</text>
     </g>
    </g>
    <g id="ytick_40">
     <g id="line2d_71">
      <path d="M 43.307143 547.192695 
L 880.307143 547.192695 
" clip-path="url(#pe58305e719)" style="fill: none; stroke: #b0b0b0; stroke-width: 0.8; stroke-linecap: square"/>
     </g>
     <g id="line2d_72">
      <g>
       <use href="#m5d545ce8f8" x="43.307143" y="547.192695" style="stroke: #000000; stroke-width: 0.8"/>
      </g>
     </g>
     <g id="text_66">
      <text style="font-size: 12px; font-family: 'DejaVu Sans', 'Liberation Sans', sans-serif; text-anchor: end" x="36.307143" y="551.751758" transform="rotate(-0 36.307143 551.751758)">6.1</text>
     </g>
    </g>
    <g id="ytick_41">
     <g id="line2d_73">
      <path d="M 43.307143 582.345825 
L 880.307143 582.345825 
" clip-path="url(#pe58305e719)" style="fill: none; stroke: #b0b0b0; stroke-width: 0.8; stroke-linecap: square"/>
     </g>
     <g id="line2d_74">
      <g>
       <use href="#m5d545ce8f8" x="43.307143" y="582.345825" style="stroke: #000000; stroke-width: 0.8"/>
      </g>
     </g>
     <g id="text_67">
      <text style="font-size: 12px; font-family: 'DejaVu Sans', 'Liberation Sans', sans-serif; text-anchor: end" x="36.307143" y="586.904887" transform="rotate(-0 36.307143 586.904887)">6.2</text>
     </g>
    </g>
    <g id="ytick_42">
     <g id="line2d_75">
      <path d="M 43.307143 617.498954 
L 880.307143 617.498954 
" clip-path="url(#pe58305e719)" style="fill: none; stroke: #b0b0b0; stroke-width: 0.8; stroke-linecap: square"/>
     </g>
     <g id="line2d_76">
      <g>
       <use href="#m5d545ce8f8" x="43.307143" y="617.498954" style="stroke: #000000; stroke-width: 0.8"/>
      </g>
     </g>
     <g id="text_68">
      <text style="font-size: 12px; font-family: 'DejaVu Sans', 'Liberation Sans', sans-serif; text-anchor: end" x="36.307143" y="622.058016" transform="rotate(-0 36.307143 622.058016)">6.3</text>
     </g>
    </g>
    <g id="text_69">
     <text style="font-size: 14px; font-family: 'DejaVu Sans', 'Liberation Sans', sans-serif; text-anchor: middle" x="10.31183" y="498.857143" transform="rotate(-90 10.31183 498.857143)">Contrast [mag]</text>
    </g>
   </g>
   <g id="line2d_77">
    <path d="M 85.575643 484.268594 
L 113.754643 539.107476 
L 141.933643 505.712003 
L 170.112643 517.312536 
L 198.291643 492.002283 
L 226.470643 478.995625 
L 254.649643 532.428381 
L 282.828643 518.36713 
L 311.007643 512.566863 
L 339.186643 492.52958 
L 367.365643 510.984972 
L 395.544643 519.632642 
L 423.723643 505.360472 
L 451.902643 493.865399 
L 480.081643 499.806277 
L 508.260643 501.142096 
L 536.439643 497.486171 
L 564.618643 495.166064 
L 592.797643 485.323188 
" clip-path="url(#pe58305e719)" style="fill: none; stroke: #1f77b4; stroke-width: 3; stroke-linecap: square"/>
   </g>
   <g id="line2d_78">
    <path d="M 85.575643 378.984972 
L 113.754643 600.976983 
L 141.933643 542.97432 
L 170.112643 518.36713 
L 198.291643 498.15408 
L 226.470643 506.063534 
L 254.649643 559.144759 
L 282.828643 553.87179 
L 311.007643 519.94902 
L 339.186643 530.881644 
L 367.365643 543.677383 
L 395.544643 541.111204 
L 423.723643 535.170325 
L 451.902643 529.545825 
L 480.081643 527.893628 
L 508.260643 522.233974 
L 536.439643 518.331976 
L 564.618643 521.952749 
L 592.797643 517.312536 
" clip-path="url(#pe58305e719)" style="fill: none; stroke: #ff7f0e; stroke-width: 3; stroke-linecap: square"/>
   </g>
   <g id="line2d_79">
    <path d="M 85.575643 507.821191 
L 113.754643 548.247289 
L 141.933643 519.070192 
L 170.112643 528.561537 
L 198.291643 505.00894 
L 226.470643 493.056877 
L 254.649643 540.513601 
L 282.828643 528.913068 
L 311.007643 526.100818 
L 339.186643 506.766597 
L 367.365643 520.827849 
L 395.544643 531.549553 
L 423.723643 516.257942 
L 451.902643 506.415066 
L 480.081643 512.391098 
L 508.260643 513.375385 
L 536.439643 512.039566 
L 564.618643 506.063534 
L 592.797643 499.38444 
" clip-path="url(#pe58305e719)" style="fill: none; stroke-dasharray: 11.1,4.8; stroke-dashoffset: 0; stroke: #1f77b4; stroke-width: 3"/>
   </g>
   <g id="line2d_80">
    <path d="M 85.575643 389.003614 
L 113.754643 618.905079 
L 141.933643 554.926384 
L 170.112643 534.537569 
L 198.291643 515.554879 
L 226.470643 524.343161 
L 254.649643 572.151417 
L 282.828643 564.066197 
L 311.007643 530.881644 
L 339.186643 548.950352 
L 367.365643 557.633175 
L 395.544643 551.692296 
L 423.723643 548.387902 
L 451.902643 545.927183 
L 480.081643 541.779114 
L 508.260643 536.822522 
L 536.439643 532.182309 
L 564.618643 534.502416 
L 592.797643 534.818794 
" clip-path="url(#pe58305e719)" style="fill: none; stroke-dasharray: 11.1,4.8; stroke-dashoffset: 0; stroke: #ff7f0e; stroke-width: 3"/>
   </g>
   <g id="line2d_81">
    <path d="M 57.047893 516.961004 
L 85.596568 587.443028 
L 114.145243 533.834506 
L 142.693918 533.482975 
L 171.242593 529.616131 
L 199.791268 514.676051 
L 228.339943 499.38444 
L 256.888618 555.629446 
L 285.437293 525.046224 
L 313.985968 515.554879 
L 342.534643 508.735172 
L 371.083318 527.155412 
L 399.631993 529.616131 
L 428.180668 517.312536 
L 456.729343 503.778581 
L 485.278018 509.71946 
L 513.826693 509.403082 
L 542.375368 508.735172 
L 570.924043 507.082975 
L 599.472718 492.213201 
" clip-path="url(#pe58305e719)" style="fill: none; stroke: #0080c4; stroke-opacity: 0.31; stroke-width: 3; stroke-linecap: square"/>
   </g>
   <g id="line2d_82">
    <path d="M 57.047893 540.16207 
L 85.596568 555.629446 
L 114.145243 608.35914 
L 142.693918 570.042229 
L 171.242593 525.257143 
L 199.791268 492.52958 
L 228.339943 551.05954 
L 256.888618 588.673388 
L 285.437293 556.68404 
L 313.985968 533.131444 
L 342.534643 542.447023 
L 371.083318 548.70428 
L 399.631993 556.332509 
L 428.180668 547.192695 
L 456.729343 537.490432 
L 485.278018 530.881644 
L 513.826693 529.229446 
L 542.375368 538.123188 
L 570.924043 532.533841 
L 599.472718 521.284839 
" clip-path="url(#pe58305e719)" style="fill: none; stroke: #ff7f0e; stroke-opacity: 0.3; stroke-width: 3; stroke-linecap: square"/>
   </g>
   <g id="patch_23">
    <path d="M 43.307143 630.857143 
L 43.307143 366.857143 
" style="fill: none; stroke: #000000; stroke-width: 0.8; stroke-linejoin: miter; stroke-linecap: square"/>
   </g>
   <g id="patch_24">
    <path d="M 880.307143 630.857143 
L 880.307143 366.857143 
" style="fill: none; stroke: #000000; stroke-width: 0.8; stroke-linejoin: miter; stroke-linecap: square"/>
   </g>
   <g id="patch_25">
    <path d="M 43.307143 630.857143 
L 880.307143 630.857143 
" style="fill: none; stroke: #000000; stroke-width: 0.8; stroke-linejoin: miter; stroke-linecap: square"/>
   </g>
   <g id="patch_26">
    <path d="M 43.307143 366.857143 
L 880.307143 366.857143 
" style="fill: none; stroke: #000000; stroke-width: 0.8; stroke-linejoin: miter; stroke-linecap: square"/>
   </g>
   <g id="legend_1">
    <g id="patch_27">
     <path d="M 638.877233 500.77698 
L 870.549143 500.77698 
Q 873.337143 500.77698 873.337143 497.98898 
L 873.337143 376.615143 
Q 873.337143 373.827143 870.549143 373.827143 
L 638.877233 373.827143 
Q 636.089233 373.827143 636.089233 376.615143 
L 636.089233 497.98898 
Q 636.089233 500.77698 638.877233 500.77698 
z
" style="fill: #ffffff; opacity: 0.8; stroke: #cccccc; stroke-linejoin: miter"/>
    </g>
    <g id="line2d_83">
     <path d="M 641.665233 385.116365 
L 655.605233 385.116365 
L 669.545233 385.116365 
" style="fill: none; stroke: #1f77b4; stroke-width: 3; stroke-linecap: square"/>
    </g>
    <g id="text_70">
     <text style="font-size: 13.94px; font-family: 'DejaVu Sans', 'Liberation Sans', sans-serif; text-anchor: start" x="680.697233" y="389.995365" transform="rotate(-0 680.697233 389.995365)">Method Absil (w/o cov)</text>
    </g>
    <g id="line2d_84">
     <path d="M 641.665233 405.577671 
L 655.605233 405.577671 
L 669.545233 405.577671 
" style="fill: none; stroke: #ff7f0e; stroke-width: 3; stroke-linecap: square"/>
    </g>
    <g id="text_71">
     <text style="font-size: 13.94px; font-family: 'DejaVu Sans', 'Liberation Sans', sans-serif; text-anchor: start" x="680.697233" y="410.456671" transform="rotate(-0 680.697233 410.456671)">Method Injection (w/o cov)</text>
    </g>
    <g id="line2d_85">
     <path d="M 641.665233 426.038977 
L 655.605233 426.038977 
L 669.545233 426.038977 
" style="fill: none; stroke-dasharray: 11.1,4.8; stroke-dashoffset: 0; stroke: #1f77b4; stroke-width: 3"/>
    </g>
    <g id="text_72">
     <text style="font-size: 13.94px; font-family: 'DejaVu Sans', 'Liberation Sans', sans-serif; text-anchor: start" x="680.697233" y="430.917977" transform="rotate(-0 680.697233 430.917977)">Method Absil (w/ cov)</text>
    </g>
    <g id="line2d_86">
     <path d="M 641.665233 446.500283 
L 655.605233 446.500283 
L 669.545233 446.500283 
" style="fill: none; stroke-dasharray: 11.1,4.8; stroke-dashoffset: 0; stroke: #ff7f0e; stroke-width: 3"/>
    </g>
    <g id="text_73">
     <text style="font-size: 13.94px; font-family: 'DejaVu Sans', 'Liberation Sans', sans-serif; text-anchor: start" x="680.697233" y="451.379283" transform="rotate(-0 680.697233 451.379283)">Method Injection (w/ cov)</text>
    </g>
    <g id="line2d_87">
     <path d="M 641.665233 466.96159 
L 655.605233 466.96159 
L 669.545233 466.96159 
" style="fill: none; stroke: #0080c4; stroke-opacity: 0.31; stroke-width: 3; stroke-linecap: square"/>
    </g>
    <g id="text_74">
     <text style="font-size: 13.94px; font-family: 'DejaVu Sans', 'Liberation Sans', sans-serif; text-anchor: start" x="680.697233" y="471.84059" transform="rotate(-0 680.697233 471.84059)">Method Absil (CANDID)</text>
    </g>
    <g id="line2d_88">
     <path d="M 641.665233 487.422896 
L 655.605233 487.422896 
L 669.545233 487.422896 
" style="fill: none; stroke: #ff7f0e; stroke-opacity: 0.3; stroke-width: 3; stroke-linecap: square"/>
    </g>
    <g id="text_75">
     <text style="font-size: 13.94px; font-family: 'DejaVu Sans', 'Liberation Sans', sans-serif; text-anchor: start" x="680.697233" y="492.301896" transform="rotate(-0 680.697233 492.301896)">Method Injection (CANDID)</text>
    </g>
   </g>
  </g>
  <g id="text_76">
   
   <g transform="translate(348.761957 19.745587)">
    <text>
     <tspan x="0" y="-0.328125" style="font-size: 18px; font-family: 'DejaVu Sans', 'Liberation Sans', sans-serif">D</tspan>
     <tspan x="13.860352" y="-0.328125" style="font-size: 18px; font-family: 'DejaVu Sans', 'Liberation Sans', sans-serif">e</tspan>
     <tspan x="24.93457" y="-0.328125" style="font-size: 18px; font-family: 'DejaVu Sans', 'Liberation Sans', sans-serif">t</tspan>
     <tspan x="31.992188" y="-0.328125" style="font-size: 18px; font-family: 'DejaVu Sans', 'Liberation Sans', sans-serif">e</tspan>
     <tspan x="43.066406" y="-0.328125" style="font-size: 18px; font-family: 'DejaVu Sans', 'Liberation Sans', sans-serif">c</tspan>
     <tspan x="52.962891" y="-0.328125" style="font-size: 18px; font-family: 'DejaVu Sans', 'Liberation Sans', sans-serif">t</tspan>
     <tspan x="60.020508" y="-0.328125" style="font-size: 18px; font-family: 'DejaVu Sans', 'Liberation Sans', sans-serif">i</tspan>
     <tspan x="65.021484" y="-0.328125" style="font-size: 18px; font-family: 'DejaVu Sans', 'Liberation Sans', sans-serif">o</tspan>
     <tspan x="76.03418" y="-0.328125" style="font-size: 18px; font-family: 'DejaVu Sans', 'Liberation Sans', sans-serif">n</tspan>
     <tspan x="87.442383" y="-0.328125" style="font-size: 18px; font-family: 'DejaVu Sans', 'Liberation Sans', sans-serif"> </tspan>
     <tspan x="93.164062" y="-0.328125" style="font-size: 18px; font-family: 'DejaVu Sans', 'Liberation Sans', sans-serif">l</tspan>
     <tspan x="98.165039" y="-0.328125" style="font-size: 18px; font-family: 'DejaVu Sans', 'Liberation Sans', sans-serif">i</tspan>
     <tspan x="103.166016" y="-0.328125" style="font-size: 18px; font-family: 'DejaVu Sans', 'Liberation Sans', sans-serif">m</tspan>
     <tspan x="120.700195" y="-0.328125" style="font-size: 18px; font-family: 'DejaVu Sans', 'Liberation Sans', sans-serif">i</tspan>
     <tspan x="125.701172" y="-0.328125" style="font-size: 18px; font-family: 'DejaVu Sans', 'Liberation Sans', sans-serif">t</tspan>
     <tspan x="132.758789" y="-0.328125" style="font-size: 18px; font-family: 'DejaVu Sans', 'Liberation Sans', sans-serif">s</tspan>
     <tspan x="142.136719" y="-0.328125" style="font-size: 18px; font-family: 'DejaVu Sans', 'Liberation Sans', sans-serif"> </tspan>
     <tspan x="147.858398" y="-0.328125" style="font-size: 18px; font-family: 'DejaVu Sans', 'Liberation Sans', sans-serif">(</tspan>
     <tspan x="154.880859" y="-0.328125" style="font-size: 18px; font-family: 'DejaVu Sans', 'Liberation Sans', sans-serif">3</tspan>
     <tspan x="166.333008" y="-0.328125" style="font-size: 18px; font-family: 'DejaVu Sans', 'Liberation Sans', sans-serif">-</tspan>
     <tspan x="184.236328" y="-0.328125" style="font-size: 18px; font-family: 'DejaVu Sans', 'Liberation Sans', sans-serif">)</tspan>
     <tspan x="172.828125" y="-0.328125" style="font-style: oblique; font-size: 18px; font-family: 'DejaVu Sans', 'Liberation Sans', sans-serif">σ</tspan>
    </text>
   </g>
  </g>
 </g>
 <defs>
  <clipPath id="pc8fe399bf5">
   <rect x="91.971429" y="53.142857" width="263.742857" height="263.957143"/>
  </clipPath>
  <clipPath id="p9ec6ddfb3c">
   <rect x="538.328571" y="53.142857" width="263.785714" height="263.957143"/>
  </clipPath>
  <clipPath id="p64c70a1c34">
   <rect x="375.385714" y="53.142857" width="13.328571" height="263.957143"/>
  </clipPath>
  <clipPath id="pf3b661eb35">
   <rect x="821.828571" y="53.142857" width="13.028571" height="263.957143"/>
  </clipPath>
  <clipPath id="pe58305e719">
   <rect x="43.307143" y="366.857143" width="837" height="264"/>
  </clipPath>
 </defs>
</svg>

</body></html>
